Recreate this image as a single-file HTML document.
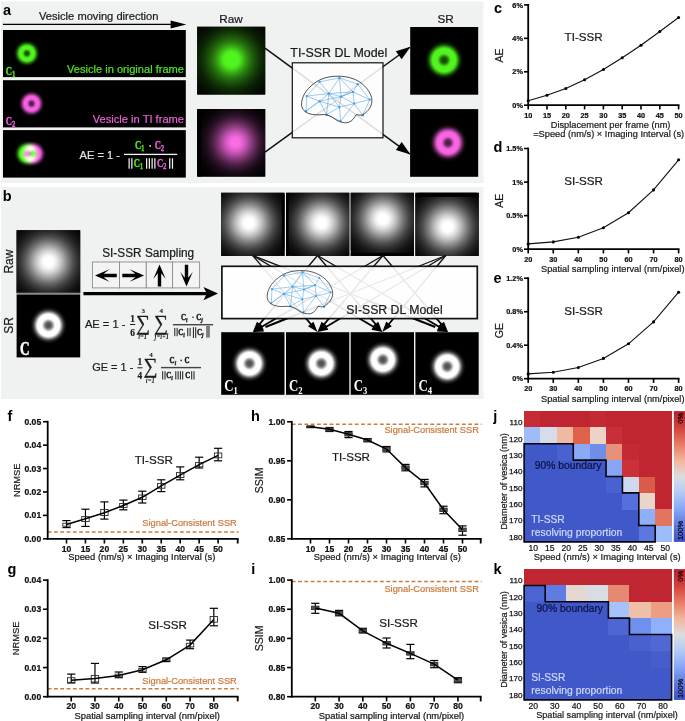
<!DOCTYPE html>
<html lang="en"><head><meta charset="utf-8"><title>Figure</title>
<style>html,body{margin:0;padding:0;background:#fff;}body{width:685px;height:721px;overflow:hidden;}svg{display:block;}text{white-space:pre;}</style>
</head><body>
<svg width="685" height="721" viewBox="0 0 685 721" font-family='"Liberation Sans", Arial, Helvetica, sans-serif'><defs><radialGradient id="gRingG" gradientUnits="userSpaceOnUse" cx="0" cy="0" r="14"><stop offset="0.0000" stop-color="#184a09"/><stop offset="0.1071" stop-color="#1d580b"/><stop offset="0.2000" stop-color="#309312"/><stop offset="0.2857" stop-color="#48dc1b"/><stop offset="0.3571" stop-color="#50f51e"/><stop offset="0.5143" stop-color="#50f51e"/><stop offset="0.6000" stop-color="#40c418"/><stop offset="0.6857" stop-color="#287a0f"/><stop offset="0.7714" stop-color="#143d08"/><stop offset="0.8571" stop-color="#061402"/><stop offset="0.9429" stop-color="#010200"/><stop offset="1.0000" stop-color="#000000"/></radialGradient><radialGradient id="gRingM" gradientUnits="userSpaceOnUse" cx="0" cy="0" r="14"><stop offset="0.0000" stop-color="#4a1c44"/><stop offset="0.1071" stop-color="#582251"/><stop offset="0.2000" stop-color="#933987"/><stop offset="0.2857" stop-color="#dc56ca"/><stop offset="0.3571" stop-color="#f55fe1"/><stop offset="0.5143" stop-color="#f55fe1"/><stop offset="0.6000" stop-color="#c44cb4"/><stop offset="0.6857" stop-color="#7a3070"/><stop offset="0.7714" stop-color="#3d1838"/><stop offset="0.8571" stop-color="#140812"/><stop offset="0.9429" stop-color="#020102"/><stop offset="1.0000" stop-color="#000000"/></radialGradient><radialGradient id="gBlobG" gradientUnits="userSpaceOnUse" cx="0" cy="0" r="50"><stop offset="0.0000" stop-color="#50f51e"/><stop offset="0.1300" stop-color="#50f51e"/><stop offset="0.1700" stop-color="#4ce91c"/><stop offset="0.2100" stop-color="#44d01a"/><stop offset="0.2500" stop-color="#3bb516"/><stop offset="0.3000" stop-color="#329813"/><stop offset="0.3600" stop-color="#287a0f"/><stop offset="0.4200" stop-color="#20620c"/><stop offset="0.5000" stop-color="#174709"/><stop offset="0.5800" stop-color="#103106"/><stop offset="0.6600" stop-color="#0a2004"/><stop offset="0.7400" stop-color="#071503"/><stop offset="0.8400" stop-color="#040b01"/><stop offset="1.0000" stop-color="#020501"/></radialGradient><radialGradient id="gBlobM" gradientUnits="userSpaceOnUse" cx="0" cy="0" r="50"><stop offset="0.0000" stop-color="#fb6ce4"/><stop offset="0.0333" stop-color="#fb6ce4"/><stop offset="0.0667" stop-color="#fb6ce4"/><stop offset="0.1000" stop-color="#f469dd"/><stop offset="0.1333" stop-color="#e964d3"/><stop offset="0.1667" stop-color="#db5ec7"/><stop offset="0.2000" stop-color="#cc58b9"/><stop offset="0.2333" stop-color="#bb50aa"/><stop offset="0.2667" stop-color="#a9499a"/><stop offset="0.3000" stop-color="#97418a"/><stop offset="0.3333" stop-color="#863979"/><stop offset="0.3667" stop-color="#74326a"/><stop offset="0.4000" stop-color="#642b5b"/><stop offset="0.4333" stop-color="#55244d"/><stop offset="0.4667" stop-color="#471e40"/><stop offset="0.5000" stop-color="#3a1935"/><stop offset="0.5333" stop-color="#30152b"/><stop offset="0.5667" stop-color="#261023"/><stop offset="0.6000" stop-color="#1e0d1c"/><stop offset="0.6333" stop-color="#180a16"/><stop offset="0.6667" stop-color="#120811"/><stop offset="0.7000" stop-color="#0e060d"/><stop offset="0.7333" stop-color="#0b050a"/><stop offset="0.7667" stop-color="#080307"/><stop offset="0.8000" stop-color="#060205"/><stop offset="0.8333" stop-color="#040204"/><stop offset="0.8667" stop-color="#030103"/><stop offset="0.9000" stop-color="#020102"/><stop offset="0.9333" stop-color="#010101"/><stop offset="0.9667" stop-color="#010001"/><stop offset="1.0000" stop-color="#010001"/></radialGradient><clipPath id="cl1"><rect x="197.20" y="26.80" width="68.00" height="67.70"/></clipPath><clipPath id="cl2"><rect x="197.20" y="109.00" width="68.00" height="67.60"/></clipPath><radialGradient id="gRingG2" gradientUnits="userSpaceOnUse" cx="0" cy="0" r="20"><stop offset="0.0000" stop-color="#164508"/><stop offset="0.1200" stop-color="#1b530a"/><stop offset="0.2100" stop-color="#2e8e11"/><stop offset="0.2900" stop-color="#45d31a"/><stop offset="0.3500" stop-color="#50f51e"/><stop offset="0.5700" stop-color="#50f51e"/><stop offset="0.6450" stop-color="#3ebf17"/><stop offset="0.7200" stop-color="#26760e"/><stop offset="0.7950" stop-color="#123807"/><stop offset="0.8700" stop-color="#061402"/><stop offset="0.9450" stop-color="#010400"/><stop offset="1.0000" stop-color="#000000"/></radialGradient><radialGradient id="gRingM2" gradientUnits="userSpaceOnUse" cx="0" cy="0" r="20"><stop offset="0.0000" stop-color="#451c3f"/><stop offset="0.1000" stop-color="#52214b"/><stop offset="0.1900" stop-color="#88377c"/><stop offset="0.2700" stop-color="#d355c0"/><stop offset="0.3300" stop-color="#f864e2"/><stop offset="0.5300" stop-color="#f864e2"/><stop offset="0.6100" stop-color="#c650b5"/><stop offset="0.6900" stop-color="#7c3271"/><stop offset="0.7700" stop-color="#3c1836"/><stop offset="0.8500" stop-color="#140812"/><stop offset="0.9300" stop-color="#040203"/><stop offset="1.0000" stop-color="#000000"/></radialGradient><clipPath id="cl3"><rect x="410.20" y="27.00" width="68.00" height="67.70"/></clipPath><clipPath id="cl4"><rect x="410.10" y="109.10" width="68.10" height="67.70"/></clipPath><radialGradient id="gBlobW" gradientUnits="userSpaceOnUse" cx="0" cy="0" r="45"><stop offset="0.0000" stop-color="#ffffff"/><stop offset="0.0333" stop-color="#ffffff"/><stop offset="0.0667" stop-color="#ffffff"/><stop offset="0.1000" stop-color="#ffffff"/><stop offset="0.1333" stop-color="#f7f7f7"/><stop offset="0.1667" stop-color="#eeeeee"/><stop offset="0.2000" stop-color="#e2e2e2"/><stop offset="0.2333" stop-color="#d6d6d6"/><stop offset="0.2667" stop-color="#c8c8c8"/><stop offset="0.3000" stop-color="#bababa"/><stop offset="0.3333" stop-color="#ababab"/><stop offset="0.3667" stop-color="#9c9c9c"/><stop offset="0.4000" stop-color="#8d8d8d"/><stop offset="0.4333" stop-color="#7e7e7e"/><stop offset="0.4667" stop-color="#707070"/><stop offset="0.5000" stop-color="#636363"/><stop offset="0.5333" stop-color="#565656"/><stop offset="0.5667" stop-color="#4a4a4a"/><stop offset="0.6000" stop-color="#404040"/><stop offset="0.6333" stop-color="#363636"/><stop offset="0.6667" stop-color="#2e2e2e"/><stop offset="0.7000" stop-color="#262626"/><stop offset="0.7333" stop-color="#202020"/><stop offset="0.7667" stop-color="#1a1a1a"/><stop offset="0.8000" stop-color="#151515"/><stop offset="0.8333" stop-color="#111111"/><stop offset="0.8667" stop-color="#0e0e0e"/><stop offset="0.9000" stop-color="#0b0b0b"/><stop offset="0.9333" stop-color="#080808"/><stop offset="0.9667" stop-color="#070707"/><stop offset="1.0000" stop-color="#050505"/></radialGradient><radialGradient id="gRingW" gradientUnits="userSpaceOnUse" cx="0" cy="0" r="19"><stop offset="0.0000" stop-color="#4c4c4c"/><stop offset="0.1316" stop-color="#5c5c5c"/><stop offset="0.2263" stop-color="#999999"/><stop offset="0.3053" stop-color="#e0e0e0"/><stop offset="0.3684" stop-color="#ffffff"/><stop offset="0.5789" stop-color="#ffffff"/><stop offset="0.6474" stop-color="#c7c7c7"/><stop offset="0.7263" stop-color="#737373"/><stop offset="0.8053" stop-color="#333333"/><stop offset="0.8842" stop-color="#121212"/><stop offset="0.9579" stop-color="#030303"/><stop offset="1.0000" stop-color="#000000"/></radialGradient><clipPath id="cl5"><rect x="16.60" y="230.20" width="63.60" height="62.80"/></clipPath><clipPath id="cl6"><rect x="16.60" y="294.60" width="63.60" height="62.80"/></clipPath><clipPath id="cl7"><rect x="221.20" y="192.80" width="63.30" height="63.10"/></clipPath><clipPath id="cl8"><rect x="286.00" y="192.80" width="63.30" height="63.10"/></clipPath><clipPath id="cl9"><rect x="350.70" y="192.80" width="63.30" height="63.10"/></clipPath><clipPath id="cl10"><rect x="415.40" y="192.80" width="63.30" height="63.10"/></clipPath><clipPath id="cl11"><rect x="221.20" y="332.20" width="63.30" height="62.60"/></clipPath><clipPath id="cl12"><rect x="286.00" y="332.20" width="63.30" height="62.60"/></clipPath><clipPath id="cl13"><rect x="350.70" y="332.20" width="63.30" height="62.60"/></clipPath><clipPath id="cl14"><rect x="415.40" y="332.20" width="63.30" height="62.60"/></clipPath><linearGradient id="cbar" x1="0" y1="0" x2="0" y2="1"><stop offset="0" stop-color="#b8202c"/><stop offset="0.12" stop-color="#cf3f3c"/><stop offset="0.25" stop-color="#e67a62"/><stop offset="0.38" stop-color="#f1b79d"/><stop offset="0.5" stop-color="#dddcdc"/><stop offset="0.62" stop-color="#b4cbf8"/><stop offset="0.75" stop-color="#86a6f5"/><stop offset="0.88" stop-color="#5b77de"/><stop offset="1" stop-color="#3c50c3"/></linearGradient></defs>
<rect x="0" y="0" width="685" height="721" fill="#fff"/>
<rect x="1.00" y="1.50" width="482.50" height="181.50" fill="#f0f1f1" />
<rect x="1.00" y="187.00" width="482.50" height="212.00" fill="#f0f1f1" />
<text x="3.10" y="14.60" font-size="14.5" font-weight="bold" fill="#000">a</text>
<text x="39.00" y="20.10" font-size="11" fill="#1a1a1a" textLength="119.50" lengthAdjust="spacingAndGlyphs" stroke="#1a1a1a" stroke-width="0.22">Vesicle moving direction</text>
<line x1="3.00" y1="24.40" x2="175.00" y2="24.40" stroke="#000" stroke-width="1.35" />
<path d="M186.3 24.4 L170.6 20.4 L170.6 28.4 Z" fill="#000"/>
<rect x="3.00" y="30.00" width="182.80" height="47.10" fill="#000" />
<rect x="3.00" y="80.20" width="182.80" height="47.20" fill="#000" />
<rect x="3.00" y="130.10" width="182.80" height="47.50" fill="#000" />
<g transform="translate(26.9 53.4)"><circle r="14" fill="url(#gRingG)"/></g>
<g transform="translate(31.5 103.6)"><circle r="14" fill="url(#gRingM)"/></g>
<g transform="translate(27.4 153.7)"><circle r="14" fill="url(#gRingG)"/></g>
<g transform="translate(33.0 153.7)" style="mix-blend-mode:screen"><circle r="14" fill="url(#gRingM)"/></g>
<text transform="translate(5.80 74.80) scale(0.72 1)" font-size="12" font-weight="bold" fill="#4fe321" stroke="#4fe321" stroke-width="0.45" font-family='"Liberation Serif", "DejaVu Serif", serif'>C<tspan font-size="9.20" dy="2.28">1</tspan></text>
<text transform="translate(5.80 125.00) scale(0.72 1)" font-size="12" font-weight="bold" fill="#e95fd6" stroke="#e95fd6" stroke-width="0.45" font-family='"Liberation Serif", "DejaVu Serif", serif'>C<tspan font-size="9.20" dy="2.28">2</tspan></text>
<text x="184.00" y="73.20" font-size="11" text-anchor="end" fill="#4fe321" textLength="117.00" lengthAdjust="spacingAndGlyphs" stroke="#4fe321" stroke-width="0.22">Vesicle in original frame</text>
<text x="184.00" y="122.60" font-size="11" text-anchor="end" fill="#e95fd6" textLength="91.20" lengthAdjust="spacingAndGlyphs" stroke="#e95fd6" stroke-width="0.22">Vesicle in TI frame</text>
<text x="79.60" y="158.50" font-size="11" fill="#e2e2e2" textLength="40.30" lengthAdjust="spacingAndGlyphs" stroke="#e2e2e2" stroke-width="0.22">AE = 1 -</text>
<rect x="124.00" y="153.75" width="53.20" height="1.30" fill="#f4f4f4" />
<text transform="translate(135.00 149.20) scale(0.72 1)" font-size="12" font-weight="bold" fill="#4fe321" stroke="#4fe321" stroke-width="0.45" font-family='"Liberation Serif", "DejaVu Serif", serif'>C<tspan font-size="8.40" dy="2.28">1</tspan></text>
<circle cx="150.2" cy="145.9" r="0.85" fill="#e8f5e0"/>
<text transform="translate(154.70 149.20) scale(0.72 1)" font-size="12" font-weight="bold" fill="#e95fd6" stroke="#e95fd6" stroke-width="0.45" font-family='"Liberation Serif", "DejaVu Serif", serif'>C<tspan font-size="8.40" dy="2.28">2</tspan></text>
<rect x="128.50" y="158.20" width="1.25" height="10.50" fill="#eee" />
<rect x="131.25" y="158.20" width="1.25" height="10.50" fill="#eee" />
<text transform="translate(133.80 166.90) scale(0.72 1)" font-size="12" font-weight="bold" fill="#4fe321" stroke="#4fe321" stroke-width="0.45" font-family='"Liberation Serif", "DejaVu Serif", serif'>C<tspan font-size="8.40" dy="2.28">1</tspan></text>
<rect x="146.00" y="158.20" width="1.25" height="10.50" fill="#eee" />
<rect x="148.75" y="158.20" width="1.25" height="10.50" fill="#eee" />
<rect x="151.50" y="158.20" width="1.25" height="10.50" fill="#eee" />
<rect x="154.25" y="158.20" width="1.25" height="10.50" fill="#eee" />
<text transform="translate(157.00 166.90) scale(0.72 1)" font-size="12" font-weight="bold" fill="#e95fd6" stroke="#e95fd6" stroke-width="0.45" font-family='"Liberation Serif", "DejaVu Serif", serif'>C<tspan font-size="8.40" dy="2.28">2</tspan></text>
<rect x="169.10" y="158.20" width="1.25" height="10.50" fill="#eee" />
<rect x="171.85" y="158.20" width="1.25" height="10.50" fill="#eee" />
<text x="231.00" y="23.30" font-size="11.7" text-anchor="middle" fill="#1a1a1a" stroke="#1a1a1a" stroke-width="0.22">Raw</text>
<text x="445.50" y="23.30" font-size="11.7" text-anchor="middle" fill="#1a1a1a" stroke="#1a1a1a" stroke-width="0.22">SR</text>
<rect x="197.20" y="26.80" width="68.00" height="67.70" fill="#000" />
<g clip-path="url(#cl1)"><g transform="translate(231.40 59.60)"><circle r="50" fill="url(#gBlobG)"/></g></g>
<rect x="197.20" y="109.00" width="68.00" height="67.60" fill="#000" />
<g clip-path="url(#cl2)"><g transform="translate(235.30 142.40)"><circle r="50" fill="url(#gBlobM)"/></g></g>
<rect x="197.20" y="109.00" width="3.60" height="67.60" fill="#000" />
<rect x="410.20" y="27.00" width="68.00" height="67.70" fill="#000" />
<g clip-path="url(#cl3)"><g transform="translate(444.10 60.10)"><circle r="20" fill="url(#gRingG2)"/></g></g>
<rect x="410.10" y="109.10" width="68.10" height="67.70" fill="#000" />
<g clip-path="url(#cl4)"><g transform="translate(448.00 142.70)"><circle r="20" fill="url(#gRingM2)"/></g></g>
<line x1="265.00" y1="48.20" x2="409.50" y2="153.80" stroke="#111" stroke-width="1.5" />
<line x1="265.00" y1="152.20" x2="409.50" y2="47.50" stroke="#111" stroke-width="1.5" />
<path d="M410.50 154.50 L395.84 149.98 L401.74 141.91 Z" fill="#000"/>
<path d="M410.50 46.80 L401.69 59.36 L395.82 51.26 Z" fill="#000"/>
<rect x="292.30" y="62.80" width="90.70" height="75.00" fill="#fff" stroke="#111" stroke-width="1.2" fill-opacity="0.86"/>
<text x="338.80" y="56.70" font-size="12" text-anchor="middle" fill="#1a1a1a" textLength="97.00" lengthAdjust="spacingAndGlyphs" stroke="#1a1a1a" stroke-width="0.22">TI-SSR DL Model</text>
<g transform="translate(260.00 30.00) scale(0.2336)">
<line x1="255" y1="222" x2="340" y2="205" stroke="#5aa9e6" stroke-width="2.6"/>
<line x1="255" y1="222" x2="295" y2="272" stroke="#5aa9e6" stroke-width="2.6"/>
<line x1="255" y1="222" x2="200" y2="283" stroke="#5aa9e6" stroke-width="2.6"/>
<line x1="340" y1="205" x2="295" y2="272" stroke="#5aa9e6" stroke-width="2.6"/>
<line x1="340" y1="205" x2="347" y2="285" stroke="#5aa9e6" stroke-width="2.6"/>
<line x1="340" y1="205" x2="398" y2="265" stroke="#5aa9e6" stroke-width="2.6"/>
<line x1="340" y1="205" x2="418" y2="232" stroke="#5aa9e6" stroke-width="2.6"/>
<line x1="418" y1="232" x2="398" y2="265" stroke="#5aa9e6" stroke-width="2.6"/>
<line x1="418" y1="232" x2="470" y2="298" stroke="#5aa9e6" stroke-width="2.6"/>
<line x1="200" y1="283" x2="295" y2="272" stroke="#5aa9e6" stroke-width="2.6"/>
<line x1="200" y1="283" x2="255" y2="305" stroke="#5aa9e6" stroke-width="2.6"/>
<line x1="200" y1="283" x2="197" y2="347" stroke="#5aa9e6" stroke-width="2.6"/>
<line x1="295" y1="272" x2="347" y2="285" stroke="#5aa9e6" stroke-width="2.6"/>
<line x1="295" y1="272" x2="255" y2="305" stroke="#5aa9e6" stroke-width="2.6"/>
<line x1="295" y1="272" x2="340" y2="330" stroke="#5aa9e6" stroke-width="2.6"/>
<line x1="295" y1="272" x2="285" y2="362" stroke="#5aa9e6" stroke-width="2.6"/>
<line x1="347" y1="285" x2="398" y2="265" stroke="#5aa9e6" stroke-width="2.6"/>
<line x1="347" y1="285" x2="403" y2="315" stroke="#5aa9e6" stroke-width="2.6"/>
<line x1="347" y1="285" x2="340" y2="330" stroke="#5aa9e6" stroke-width="2.6"/>
<line x1="398" y1="265" x2="403" y2="315" stroke="#5aa9e6" stroke-width="2.6"/>
<line x1="398" y1="265" x2="470" y2="298" stroke="#5aa9e6" stroke-width="2.6"/>
<line x1="470" y1="298" x2="403" y2="315" stroke="#5aa9e6" stroke-width="2.6"/>
<line x1="255" y1="305" x2="197" y2="347" stroke="#5aa9e6" stroke-width="2.6"/>
<line x1="255" y1="305" x2="285" y2="362" stroke="#5aa9e6" stroke-width="2.6"/>
<line x1="255" y1="305" x2="340" y2="330" stroke="#5aa9e6" stroke-width="2.6"/>
<line x1="403" y1="315" x2="340" y2="330" stroke="#5aa9e6" stroke-width="2.6"/>
<line x1="403" y1="315" x2="440" y2="365" stroke="#5aa9e6" stroke-width="2.6"/>
<line x1="403" y1="315" x2="345" y2="390" stroke="#5aa9e6" stroke-width="2.6"/>
<line x1="340" y1="330" x2="345" y2="390" stroke="#5aa9e6" stroke-width="2.6"/>
<line x1="340" y1="330" x2="285" y2="362" stroke="#5aa9e6" stroke-width="2.6"/>
<line x1="470" y1="298" x2="440" y2="365" stroke="#5aa9e6" stroke-width="2.6"/>
<line x1="398" y1="265" x2="347" y2="285" stroke="#5aa9e6" stroke-width="2.6"/>
<line x1="197" y1="347" x2="255" y2="305" stroke="#5aa9e6" stroke-width="2.6"/>
<line x1="285" y1="362" x2="345" y2="390" stroke="#5aa9e6" stroke-width="2.6"/>
<line x1="295" y1="272" x2="398" y2="265" stroke="#5aa9e6" stroke-width="2.6"/>
<line x1="255" y1="305" x2="347" y2="285" stroke="#5aa9e6" stroke-width="2.6"/>
<circle cx="255" cy="222" r="5" fill="#4a9fe0"/>
<circle cx="340" cy="205" r="5" fill="#4a9fe0"/>
<circle cx="418" cy="232" r="5" fill="#4a9fe0"/>
<circle cx="200" cy="283" r="5" fill="#4a9fe0"/>
<circle cx="295" cy="272" r="5" fill="#4a9fe0"/>
<circle cx="347" cy="285" r="5" fill="#4a9fe0"/>
<circle cx="398" cy="265" r="5" fill="#4a9fe0"/>
<circle cx="470" cy="298" r="5" fill="#4a9fe0"/>
<circle cx="255" cy="305" r="5" fill="#4a9fe0"/>
<circle cx="403" cy="315" r="5" fill="#4a9fe0"/>
<circle cx="340" cy="330" r="5" fill="#4a9fe0"/>
<circle cx="197" cy="347" r="5" fill="#4a9fe0"/>
<circle cx="285" cy="362" r="5" fill="#4a9fe0"/>
<circle cx="345" cy="390" r="5" fill="#4a9fe0"/>
<circle cx="440" cy="365" r="5" fill="#4a9fe0"/>
<path d="M178 322 C176 290 196 255 230 230 C262 205 300 197 338 198 C380 198 420 212 448 240 C468 260 480 285 479 305 C478 330 462 348 446 358 C440 366 428 366 412 362 C404 375 396 390 378 396 C356 400 338 392 322 382 C305 370 292 362 270 362 C250 364 228 364 210 358 C192 352 180 340 178 322 Z" fill="none" stroke="#222" stroke-width="3.4"/>
</g>
<text x="2.80" y="200.70" font-size="14.5" font-weight="bold" fill="#000">b</text>
<rect x="16.60" y="230.20" width="63.60" height="62.80" fill="#000" />
<g clip-path="url(#cl5)"><g transform="translate(48.50 261.80)"><circle r="45" fill="url(#gBlobW)"/></g></g>
<rect x="16.60" y="292.70" width="63.60" height="2.00" fill="#8a8a8a" />
<rect x="16.60" y="294.60" width="63.60" height="62.80" fill="#000" />
<g clip-path="url(#cl6)"><g transform="translate(48.50 325.30)"><circle r="19" fill="url(#gRingW)"/></g></g>
<text x="12.60" y="261.60" font-size="12" text-anchor="middle" fill="#1a1a1a" transform="rotate(-90 12.60 261.60)" stroke="#1a1a1a" stroke-width="0.22">Raw</text>
<text x="12.60" y="325.30" font-size="12" text-anchor="middle" fill="#1a1a1a" transform="rotate(-90 12.60 325.30)" stroke="#1a1a1a" stroke-width="0.22">SR</text>
<text x="19.90" y="354.60" font-size="18" font-weight="bold" fill="#fff" font-family='"Liberation Serif", "DejaVu Serif", serif' textLength="9.60" lengthAdjust="spacingAndGlyphs" stroke="#fff" stroke-width="0.5">C</text>
<text x="148.20" y="256.60" font-size="12" text-anchor="middle" fill="#1a1a1a" textLength="92.00" lengthAdjust="spacingAndGlyphs" stroke="#1a1a1a" stroke-width="0.22">SI-SSR Sampling</text>
<rect x="92.40" y="262.00" width="27.10" height="25.90" fill="#f4f4f4" stroke="#8c8c8c" stroke-width="0.9" />
<rect x="119.50" y="262.00" width="26.80" height="25.90" fill="#f4f4f4" stroke="#8c8c8c" stroke-width="0.9" />
<rect x="146.30" y="262.00" width="26.30" height="25.90" fill="#f4f4f4" stroke="#8c8c8c" stroke-width="0.9" />
<rect x="172.60" y="262.00" width="27.00" height="25.90" fill="#f4f4f4" stroke="#8c8c8c" stroke-width="0.9" />
<path d="M95.00 275.50 L109.50 269.30 L103.70 273.80 L116.80 273.80 L116.80 277.20 L103.70 277.20 L109.50 281.70 Z" fill="#000"/>
<path d="M144.10 275.50 L129.60 281.70 L135.40 277.20 L122.30 277.20 L122.30 273.80 L135.40 273.80 L129.60 269.30 Z" fill="#000"/>
<path d="M159.50 264.60 L165.70 279.10 L161.20 273.30 L161.20 286.40 L157.80 286.40 L157.80 273.30 L153.30 279.10 Z" fill="#000"/>
<path d="M186.50 286.50 L180.30 272.00 L184.80 277.80 L184.80 264.70 L188.20 264.70 L188.20 277.80 L192.70 272.00 Z" fill="#000"/>
<line x1="83.40" y1="293.60" x2="207.00" y2="293.60" stroke="#000" stroke-width="3.2" />
<path d="M218 293.6 L203.5 286.9 L206.8 293.6 L203.5 300.3 Z" fill="#000"/>
<text x="84.90" y="327.60" font-size="11" fill="#1c1c1c" textLength="40.60" lengthAdjust="spacingAndGlyphs" stroke="#1c1c1c" stroke-width="0.22">AE = 1 -</text>
<text transform="translate(132.60 321.70) scale(0.85 1)" font-size="11" font-weight="bold" text-anchor="middle" fill="#1c1c1c" stroke="#1c1c1c" stroke-width="0.25" font-family='"Liberation Serif", "DejaVu Serif", serif'>1</text>
<text transform="translate(132.60 335.60) scale(0.85 1)" font-size="11" font-weight="bold" text-anchor="middle" fill="#1c1c1c" stroke="#1c1c1c" stroke-width="0.25" font-family='"Liberation Serif", "DejaVu Serif", serif'>6</text>
<rect x="130.00" y="324.00" width="5.20" height="1.00" fill="#1c1c1c" />
<text transform="translate(135.91 329.51) scale(0.916 1)" font-size="21.54" fill="#1c1c1c" stroke="#1c1c1c" stroke-width="0.3" font-family='"Liberation Serif", "DejaVu Serif", serif'>∑</text>
<text transform="translate(143.30 313.30) scale(1.0 1)" font-size="7" font-weight="bold" text-anchor="middle" fill="#1c1c1c" stroke="#1c1c1c" stroke-width="0.1" font-family='"Liberation Serif", "DejaVu Serif", serif'>3</text>
<text transform="translate(142.70 339.40) scale(0.92 1)" font-size="7.2" font-weight="bold" text-anchor="middle" fill="#1c1c1c" stroke="#1c1c1c" stroke-width="0" font-style="italic" font-family='"Liberation Serif", "DejaVu Serif", serif'>i=1</text>
<text transform="translate(153.91 329.51) scale(0.916 1)" font-size="21.54" fill="#1c1c1c" stroke="#1c1c1c" stroke-width="0.3" font-family='"Liberation Serif", "DejaVu Serif", serif'>∑</text>
<text transform="translate(161.30 313.30) scale(1.0 1)" font-size="7" font-weight="bold" text-anchor="middle" fill="#1c1c1c" stroke="#1c1c1c" stroke-width="0.1" font-family='"Liberation Serif", "DejaVu Serif", serif'>4</text>
<text transform="translate(161.80 339.40) scale(0.92 1)" font-size="7.2" font-weight="bold" text-anchor="middle" fill="#1c1c1c" stroke="#1c1c1c" stroke-width="0" font-style="italic" font-family='"Liberation Serif", "DejaVu Serif", serif'>j=i+1</text>
<rect x="172.90" y="324.00" width="40.20" height="1.40" fill="#444" />
<text transform="translate(181.00 320.20) scale(0.78 1)" font-size="9" font-weight="bold" fill="#1c1c1c" stroke="#1c1c1c" stroke-width="0.45" font-family='"Liberation Serif", "DejaVu Serif", serif'>C<tspan font-size="6.80" dy="1.60" font-style="italic">i</tspan></text>
<circle cx="193" cy="317.2" r="0.8" fill="#1c1c1c"/>
<text transform="translate(196.20 320.20) scale(0.78 1)" font-size="9" font-weight="bold" fill="#1c1c1c" stroke="#1c1c1c" stroke-width="0.45" font-family='"Liberation Serif", "DejaVu Serif", serif'>C<tspan font-size="6.80" dy="1.60" font-style="italic">j</tspan></text>
<rect x="174.30" y="327.90" width="1.00" height="8.30" fill="#1c1c1c" />
<rect x="176.60" y="327.90" width="1.00" height="8.30" fill="#1c1c1c" />
<text transform="translate(178.30 335.00) scale(0.78 1)" font-size="9" font-weight="bold" fill="#1c1c1c" stroke="#1c1c1c" stroke-width="0.45" font-family='"Liberation Serif", "DejaVu Serif", serif'>C<tspan font-size="6.80" dy="1.60" font-style="italic">i</tspan></text>
<rect x="187.30" y="327.90" width="1.00" height="8.30" fill="#1c1c1c" />
<rect x="189.60" y="327.90" width="1.00" height="8.30" fill="#1c1c1c" />
<rect x="192.90" y="327.20" width="1.00" height="10.80" fill="#1c1c1c" />
<rect x="195.20" y="327.20" width="1.00" height="10.80" fill="#1c1c1c" />
<text transform="translate(197.00 335.00) scale(0.78 1)" font-size="9" font-weight="bold" fill="#1c1c1c" stroke="#1c1c1c" stroke-width="0.45" font-family='"Liberation Serif", "DejaVu Serif", serif'>C<tspan font-size="6.80" dy="1.60" font-style="italic">j</tspan></text>
<rect x="206.10" y="325.80" width="3.80" height="11.80" fill="#7d7d7d" />
<text x="92.20" y="371.20" font-size="11" fill="#1c1c1c" textLength="41.10" lengthAdjust="spacingAndGlyphs" stroke="#1c1c1c" stroke-width="0.22">GE = 1 -</text>
<text transform="translate(139.90 365.00) scale(0.85 1)" font-size="11" font-weight="bold" text-anchor="middle" fill="#1c1c1c" stroke="#1c1c1c" stroke-width="0.25" font-family='"Liberation Serif", "DejaVu Serif", serif'>1</text>
<text transform="translate(139.90 378.90) scale(0.85 1)" font-size="11" font-weight="bold" text-anchor="middle" fill="#1c1c1c" stroke="#1c1c1c" stroke-width="0.25" font-family='"Liberation Serif", "DejaVu Serif", serif'>4</text>
<rect x="137.30" y="367.30" width="5.20" height="1.00" fill="#1c1c1c" />
<text transform="translate(143.51 372.81) scale(0.916 1)" font-size="21.54" fill="#1c1c1c" stroke="#1c1c1c" stroke-width="0.3" font-family='"Liberation Serif", "DejaVu Serif", serif'>∑</text>
<text transform="translate(150.90 356.60) scale(1.0 1)" font-size="7" font-weight="bold" text-anchor="middle" fill="#1c1c1c" stroke="#1c1c1c" stroke-width="0.1" font-family='"Liberation Serif", "DejaVu Serif", serif'>4</text>
<text transform="translate(150.30 382.70) scale(0.92 1)" font-size="7.2" font-weight="bold" text-anchor="middle" fill="#1c1c1c" stroke="#1c1c1c" stroke-width="0" font-style="italic" font-family='"Liberation Serif", "DejaVu Serif", serif'>i=1</text>
<rect x="161.00" y="366.90" width="40.00" height="1.40" fill="#444" />
<text transform="translate(169.60 363.40) scale(0.78 1)" font-size="9" font-weight="bold" fill="#1c1c1c" stroke="#1c1c1c" stroke-width="0.45" font-family='"Liberation Serif", "DejaVu Serif", serif'>C<tspan font-size="6.80" dy="1.60" font-style="italic">i</tspan></text>
<circle cx="181.2" cy="360.4" r="0.8" fill="#1c1c1c"/>
<text transform="translate(184.60 363.40) scale(0.78 1)" font-size="9" font-weight="bold" fill="#1c1c1c" stroke="#1c1c1c" stroke-width="0.45" font-family='"Liberation Serif", "DejaVu Serif", serif'>C</text>
<rect x="162.20" y="371.20" width="1.00" height="8.30" fill="#1c1c1c" />
<rect x="164.50" y="371.20" width="1.00" height="8.30" fill="#1c1c1c" />
<text transform="translate(166.30 378.30) scale(0.78 1)" font-size="9" font-weight="bold" fill="#1c1c1c" stroke="#1c1c1c" stroke-width="0.45" font-family='"Liberation Serif", "DejaVu Serif", serif'>C<tspan font-size="6.80" dy="1.60" font-style="italic">i</tspan></text>
<rect x="175.30" y="371.20" width="1.00" height="8.30" fill="#1c1c1c" />
<rect x="177.60" y="371.20" width="1.00" height="8.30" fill="#1c1c1c" />
<rect x="179.90" y="371.20" width="1.00" height="8.30" fill="#1c1c1c" />
<rect x="182.20" y="371.20" width="1.00" height="8.30" fill="#1c1c1c" />
<text transform="translate(185.30 378.30) scale(0.78 1)" font-size="9" font-weight="bold" fill="#1c1c1c" stroke="#1c1c1c" stroke-width="0.45" font-family='"Liberation Serif", "DejaVu Serif", serif'>C</text>
<rect x="191.20" y="371.20" width="1.00" height="8.30" fill="#1c1c1c" />
<rect x="193.50" y="371.20" width="1.00" height="8.30" fill="#1c1c1c" />
<rect x="221.20" y="192.80" width="63.30" height="63.10" fill="#000" />
<g clip-path="url(#cl7)"><g transform="translate(248.85 222.80)"><circle r="45" fill="url(#gBlobW)"/></g></g>
<rect x="281.90" y="192.80" width="2.60" height="63.10" fill="#000" />
<rect x="286.00" y="192.80" width="63.30" height="63.10" fill="#000" />
<g clip-path="url(#cl8)"><g transform="translate(321.45 222.80)"><circle r="45" fill="url(#gBlobW)"/></g></g>
<rect x="286.00" y="192.80" width="2.60" height="63.10" fill="#000" />
<rect x="350.70" y="192.80" width="63.30" height="63.10" fill="#000" />
<g clip-path="url(#cl9)"><g transform="translate(382.85 218.80)"><circle r="45" fill="url(#gBlobW)"/></g></g>
<rect x="350.70" y="252.90" width="63.30" height="3.00" fill="#000" />
<rect x="415.40" y="192.80" width="63.30" height="63.10" fill="#000" />
<g clip-path="url(#cl10)"><g transform="translate(447.55 226.80)"><circle r="45" fill="url(#gBlobW)"/></g></g>
<rect x="415.40" y="192.80" width="63.30" height="4.00" fill="#000" />
<rect x="221.20" y="332.20" width="63.30" height="62.60" fill="#000" />
<g clip-path="url(#cl11)"><g transform="translate(249.45 363.50)"><circle r="19" fill="url(#gRingW)"/></g></g>
<text x="224.20" y="390.5" font-size="15.8" font-weight="bold" fill="#fff" font-family='"Liberation Serif", "DejaVu Serif", serif' textLength="13.6" lengthAdjust="spacingAndGlyphs">C<tspan font-size="10.5" dy="3.4">1</tspan></text>
<rect x="286.00" y="332.20" width="63.30" height="62.60" fill="#000" />
<g clip-path="url(#cl12)"><g transform="translate(321.25 363.50)"><circle r="19" fill="url(#gRingW)"/></g></g>
<text x="289.00" y="390.5" font-size="15.8" font-weight="bold" fill="#fff" font-family='"Liberation Serif", "DejaVu Serif", serif' textLength="13.6" lengthAdjust="spacingAndGlyphs">C<tspan font-size="10.5" dy="3.4">2</tspan></text>
<rect x="350.70" y="332.20" width="63.30" height="62.60" fill="#000" />
<g clip-path="url(#cl13)"><g transform="translate(382.85 359.70)"><circle r="19" fill="url(#gRingW)"/></g></g>
<text x="353.70" y="390.5" font-size="15.8" font-weight="bold" fill="#fff" font-family='"Liberation Serif", "DejaVu Serif", serif' textLength="13.6" lengthAdjust="spacingAndGlyphs">C<tspan font-size="10.5" dy="3.4">3</tspan></text>
<rect x="415.40" y="332.20" width="63.30" height="62.60" fill="#000" />
<g clip-path="url(#cl14)"><g transform="translate(447.25 366.50)"><circle r="19" fill="url(#gRingW)"/></g></g>
<text x="418.40" y="390.5" font-size="15.8" font-weight="bold" fill="#fff" font-family='"Liberation Serif", "DejaVu Serif", serif' textLength="13.6" lengthAdjust="spacingAndGlyphs">C<tspan font-size="10.5" dy="3.4">4</tspan></text>
<line x1="252.70" y1="255.50" x2="290.39" y2="300.00" stroke="#111" stroke-width="1.3" />
<line x1="290.39" y1="300.00" x2="313.26" y2="327.00" stroke="#000" stroke-width="1.9" />
<line x1="252.70" y1="255.50" x2="328.09" y2="300.00" stroke="#111" stroke-width="1.3" />
<line x1="328.09" y1="300.00" x2="373.83" y2="327.00" stroke="#000" stroke-width="1.9" />
<line x1="252.70" y1="255.50" x2="366.31" y2="300.00" stroke="#111" stroke-width="1.3" />
<line x1="366.31" y1="300.00" x2="435.24" y2="327.00" stroke="#000" stroke-width="1.9" />
<line x1="317.50" y1="255.50" x2="279.92" y2="300.00" stroke="#111" stroke-width="1.3" />
<line x1="279.92" y1="300.00" x2="257.12" y2="327.00" stroke="#000" stroke-width="1.9" />
<line x1="317.50" y1="255.50" x2="355.19" y2="300.00" stroke="#111" stroke-width="1.3" />
<line x1="355.19" y1="300.00" x2="378.06" y2="327.00" stroke="#000" stroke-width="1.9" />
<line x1="317.50" y1="255.50" x2="393.41" y2="300.00" stroke="#111" stroke-width="1.3" />
<line x1="393.41" y1="300.00" x2="439.47" y2="327.00" stroke="#000" stroke-width="1.9" />
<line x1="383.00" y1="255.50" x2="307.32" y2="300.00" stroke="#111" stroke-width="1.3" />
<line x1="307.32" y1="300.00" x2="261.40" y2="327.00" stroke="#000" stroke-width="1.9" />
<line x1="383.00" y1="255.50" x2="344.90" y2="300.00" stroke="#111" stroke-width="1.3" />
<line x1="344.90" y1="300.00" x2="321.78" y2="327.00" stroke="#000" stroke-width="1.9" />
<line x1="383.00" y1="255.50" x2="420.81" y2="300.00" stroke="#111" stroke-width="1.3" />
<line x1="420.81" y1="300.00" x2="443.75" y2="327.00" stroke="#000" stroke-width="1.9" />
<line x1="445.80" y1="255.50" x2="333.59" y2="300.00" stroke="#111" stroke-width="1.3" />
<line x1="333.59" y1="300.00" x2="265.51" y2="327.00" stroke="#000" stroke-width="1.9" />
<line x1="445.80" y1="255.50" x2="371.17" y2="300.00" stroke="#111" stroke-width="1.3" />
<line x1="371.17" y1="300.00" x2="325.89" y2="327.00" stroke="#000" stroke-width="1.9" />
<line x1="445.80" y1="255.50" x2="408.86" y2="300.00" stroke="#111" stroke-width="1.3" />
<line x1="408.86" y1="300.00" x2="386.45" y2="327.00" stroke="#000" stroke-width="1.9" />
<path d="M317.50 332.00 L307.97 326.31 L313.46 321.66 Z" fill="#000"/>
<path d="M382.30 332.00 L371.43 329.76 L375.09 323.56 Z" fill="#000"/>
<path d="M448.00 332.00 L436.91 331.52 L439.54 324.82 Z" fill="#000"/>
<path d="M252.90 332.00 L256.92 321.66 L262.42 326.30 Z" fill="#000"/>
<path d="M382.30 332.00 L372.77 326.31 L378.26 321.66 Z" fill="#000"/>
<path d="M448.00 332.00 L437.12 329.80 L440.76 323.58 Z" fill="#000"/>
<path d="M252.90 332.00 L260.13 323.57 L263.78 329.78 Z" fill="#000"/>
<path d="M317.50 332.00 L321.59 321.68 L327.06 326.37 Z" fill="#000"/>
<path d="M448.00 332.00 L438.46 326.33 L443.94 321.67 Z" fill="#000"/>
<path d="M252.90 332.00 L261.33 324.78 L263.99 331.48 Z" fill="#000"/>
<path d="M317.50 332.00 L324.67 323.53 L328.36 329.71 Z" fill="#000"/>
<path d="M382.30 332.00 L386.24 321.62 L391.78 326.22 Z" fill="#000"/>
<rect x="221.90" y="266.30" width="255.40" height="52.30" fill="#fff" stroke="#111" stroke-width="1.7" fill-opacity="0.9"/>
<g transform="translate(228.50 227.57) scale(0.2174)">
<line x1="255" y1="222" x2="340" y2="205" stroke="#5aa9e6" stroke-width="2.6"/>
<line x1="255" y1="222" x2="295" y2="272" stroke="#5aa9e6" stroke-width="2.6"/>
<line x1="255" y1="222" x2="200" y2="283" stroke="#5aa9e6" stroke-width="2.6"/>
<line x1="340" y1="205" x2="295" y2="272" stroke="#5aa9e6" stroke-width="2.6"/>
<line x1="340" y1="205" x2="347" y2="285" stroke="#5aa9e6" stroke-width="2.6"/>
<line x1="340" y1="205" x2="398" y2="265" stroke="#5aa9e6" stroke-width="2.6"/>
<line x1="340" y1="205" x2="418" y2="232" stroke="#5aa9e6" stroke-width="2.6"/>
<line x1="418" y1="232" x2="398" y2="265" stroke="#5aa9e6" stroke-width="2.6"/>
<line x1="418" y1="232" x2="470" y2="298" stroke="#5aa9e6" stroke-width="2.6"/>
<line x1="200" y1="283" x2="295" y2="272" stroke="#5aa9e6" stroke-width="2.6"/>
<line x1="200" y1="283" x2="255" y2="305" stroke="#5aa9e6" stroke-width="2.6"/>
<line x1="200" y1="283" x2="197" y2="347" stroke="#5aa9e6" stroke-width="2.6"/>
<line x1="295" y1="272" x2="347" y2="285" stroke="#5aa9e6" stroke-width="2.6"/>
<line x1="295" y1="272" x2="255" y2="305" stroke="#5aa9e6" stroke-width="2.6"/>
<line x1="295" y1="272" x2="340" y2="330" stroke="#5aa9e6" stroke-width="2.6"/>
<line x1="295" y1="272" x2="285" y2="362" stroke="#5aa9e6" stroke-width="2.6"/>
<line x1="347" y1="285" x2="398" y2="265" stroke="#5aa9e6" stroke-width="2.6"/>
<line x1="347" y1="285" x2="403" y2="315" stroke="#5aa9e6" stroke-width="2.6"/>
<line x1="347" y1="285" x2="340" y2="330" stroke="#5aa9e6" stroke-width="2.6"/>
<line x1="398" y1="265" x2="403" y2="315" stroke="#5aa9e6" stroke-width="2.6"/>
<line x1="398" y1="265" x2="470" y2="298" stroke="#5aa9e6" stroke-width="2.6"/>
<line x1="470" y1="298" x2="403" y2="315" stroke="#5aa9e6" stroke-width="2.6"/>
<line x1="255" y1="305" x2="197" y2="347" stroke="#5aa9e6" stroke-width="2.6"/>
<line x1="255" y1="305" x2="285" y2="362" stroke="#5aa9e6" stroke-width="2.6"/>
<line x1="255" y1="305" x2="340" y2="330" stroke="#5aa9e6" stroke-width="2.6"/>
<line x1="403" y1="315" x2="340" y2="330" stroke="#5aa9e6" stroke-width="2.6"/>
<line x1="403" y1="315" x2="440" y2="365" stroke="#5aa9e6" stroke-width="2.6"/>
<line x1="403" y1="315" x2="345" y2="390" stroke="#5aa9e6" stroke-width="2.6"/>
<line x1="340" y1="330" x2="345" y2="390" stroke="#5aa9e6" stroke-width="2.6"/>
<line x1="340" y1="330" x2="285" y2="362" stroke="#5aa9e6" stroke-width="2.6"/>
<line x1="470" y1="298" x2="440" y2="365" stroke="#5aa9e6" stroke-width="2.6"/>
<line x1="398" y1="265" x2="347" y2="285" stroke="#5aa9e6" stroke-width="2.6"/>
<line x1="197" y1="347" x2="255" y2="305" stroke="#5aa9e6" stroke-width="2.6"/>
<line x1="285" y1="362" x2="345" y2="390" stroke="#5aa9e6" stroke-width="2.6"/>
<line x1="295" y1="272" x2="398" y2="265" stroke="#5aa9e6" stroke-width="2.6"/>
<line x1="255" y1="305" x2="347" y2="285" stroke="#5aa9e6" stroke-width="2.6"/>
<circle cx="255" cy="222" r="5" fill="#4a9fe0"/>
<circle cx="340" cy="205" r="5" fill="#4a9fe0"/>
<circle cx="418" cy="232" r="5" fill="#4a9fe0"/>
<circle cx="200" cy="283" r="5" fill="#4a9fe0"/>
<circle cx="295" cy="272" r="5" fill="#4a9fe0"/>
<circle cx="347" cy="285" r="5" fill="#4a9fe0"/>
<circle cx="398" cy="265" r="5" fill="#4a9fe0"/>
<circle cx="470" cy="298" r="5" fill="#4a9fe0"/>
<circle cx="255" cy="305" r="5" fill="#4a9fe0"/>
<circle cx="403" cy="315" r="5" fill="#4a9fe0"/>
<circle cx="340" cy="330" r="5" fill="#4a9fe0"/>
<circle cx="197" cy="347" r="5" fill="#4a9fe0"/>
<circle cx="285" cy="362" r="5" fill="#4a9fe0"/>
<circle cx="345" cy="390" r="5" fill="#4a9fe0"/>
<circle cx="440" cy="365" r="5" fill="#4a9fe0"/>
<path d="M178 322 C176 290 196 255 230 230 C262 205 300 197 338 198 C380 198 420 212 448 240 C468 260 480 285 479 305 C478 330 462 348 446 358 C440 366 428 366 412 362 C404 375 396 390 378 396 C356 400 338 392 322 382 C305 370 292 362 270 362 C250 364 228 364 210 358 C192 352 180 340 178 322 Z" fill="none" stroke="#222" stroke-width="3.4"/>
</g>
<text x="394.50" y="313.90" font-size="12" text-anchor="middle" fill="#1a1a1a" textLength="96.30" lengthAdjust="spacingAndGlyphs" stroke="#1a1a1a" stroke-width="0.22">SI-SSR DL Model</text>
<line x1="528.20" y1="4.00" x2="528.20" y2="106.10" stroke="#000" stroke-width="1.8" />
<line x1="527.30" y1="105.20" x2="679.50" y2="105.20" stroke="#000" stroke-width="1.8" />
<line x1="524.00" y1="105.20" x2="528.20" y2="105.20" stroke="#000" stroke-width="1.62" />
<text x="522.90" y="107.83" font-size="7.3" text-anchor="end" font-weight="bold" fill="#111" stroke="#111" stroke-width="0.22">0%</text>
<line x1="524.00" y1="71.77" x2="528.20" y2="71.77" stroke="#000" stroke-width="1.62" />
<text x="522.90" y="74.39" font-size="7.3" text-anchor="end" font-weight="bold" fill="#111" stroke="#111" stroke-width="0.22">2%</text>
<line x1="524.00" y1="38.33" x2="528.20" y2="38.33" stroke="#000" stroke-width="1.62" />
<text x="522.90" y="40.96" font-size="7.3" text-anchor="end" font-weight="bold" fill="#111" stroke="#111" stroke-width="0.22">4%</text>
<line x1="524.00" y1="4.90" x2="528.20" y2="4.90" stroke="#000" stroke-width="1.62" />
<text x="522.90" y="7.53" font-size="7.3" text-anchor="end" font-weight="bold" fill="#111" stroke="#111" stroke-width="0.22">6%</text>
<line x1="528.20" y1="105.20" x2="528.20" y2="109.40" stroke="#000" stroke-width="1.62" />
<text x="528.20" y="117.70" font-size="7.3" text-anchor="middle" font-weight="bold" fill="#111" stroke="#111" stroke-width="0.22">10</text>
<line x1="547.00" y1="105.20" x2="547.00" y2="109.40" stroke="#000" stroke-width="1.62" />
<text x="547.00" y="117.70" font-size="7.3" text-anchor="middle" font-weight="bold" fill="#111" stroke="#111" stroke-width="0.22">15</text>
<line x1="565.80" y1="105.20" x2="565.80" y2="109.40" stroke="#000" stroke-width="1.62" />
<text x="565.80" y="117.70" font-size="7.3" text-anchor="middle" font-weight="bold" fill="#111" stroke="#111" stroke-width="0.22">20</text>
<line x1="584.60" y1="105.20" x2="584.60" y2="109.40" stroke="#000" stroke-width="1.62" />
<text x="584.60" y="117.70" font-size="7.3" text-anchor="middle" font-weight="bold" fill="#111" stroke="#111" stroke-width="0.22">25</text>
<line x1="603.40" y1="105.20" x2="603.40" y2="109.40" stroke="#000" stroke-width="1.62" />
<text x="603.40" y="117.70" font-size="7.3" text-anchor="middle" font-weight="bold" fill="#111" stroke="#111" stroke-width="0.22">30</text>
<line x1="622.20" y1="105.20" x2="622.20" y2="109.40" stroke="#000" stroke-width="1.62" />
<text x="622.20" y="117.70" font-size="7.3" text-anchor="middle" font-weight="bold" fill="#111" stroke="#111" stroke-width="0.22">35</text>
<line x1="641.00" y1="105.20" x2="641.00" y2="109.40" stroke="#000" stroke-width="1.62" />
<text x="641.00" y="117.70" font-size="7.3" text-anchor="middle" font-weight="bold" fill="#111" stroke="#111" stroke-width="0.22">40</text>
<line x1="659.80" y1="105.20" x2="659.80" y2="109.40" stroke="#000" stroke-width="1.62" />
<text x="659.80" y="117.70" font-size="7.3" text-anchor="middle" font-weight="bold" fill="#111" stroke="#111" stroke-width="0.22">45</text>
<line x1="678.60" y1="105.20" x2="678.60" y2="109.40" stroke="#000" stroke-width="1.62" />
<text x="678.60" y="117.70" font-size="7.3" text-anchor="middle" font-weight="bold" fill="#111" stroke="#111" stroke-width="0.22">50</text>
<polyline points="528.20,100.70 547.00,95.20 565.80,88.50 584.60,79.70 603.40,69.50 622.20,57.80 641.00,45.30 659.80,31.50 678.60,17.50" fill="none" stroke="#111" stroke-width="1.1"/>
<circle cx="528.20" cy="100.70" r="1.55" fill="#000"/>
<circle cx="547.00" cy="95.20" r="1.55" fill="#000"/>
<circle cx="565.80" cy="88.50" r="1.55" fill="#000"/>
<circle cx="584.60" cy="79.70" r="1.55" fill="#000"/>
<circle cx="603.40" cy="69.50" r="1.55" fill="#000"/>
<circle cx="622.20" cy="57.80" r="1.55" fill="#000"/>
<circle cx="641.00" cy="45.30" r="1.55" fill="#000"/>
<circle cx="659.80" cy="31.50" r="1.55" fill="#000"/>
<circle cx="678.60" cy="17.50" r="1.55" fill="#000"/>
<text x="583.60" y="41.00" font-size="11.6" text-anchor="middle" fill="#1a1a1a" stroke="#1a1a1a" stroke-width="0.22">TI-SSR</text>
<text x="503.20" y="55.50" font-size="10.5" text-anchor="middle" fill="#1a1a1a" transform="rotate(-90 503.20 55.50)" stroke="#1a1a1a" stroke-width="0.22">AE</text>
<text x="610.60" y="127.50" font-size="9.6" text-anchor="middle" fill="#1a1a1a" textLength="119.70" lengthAdjust="spacingAndGlyphs" stroke="#1a1a1a" stroke-width="0.22">Displacement per frame (nm)</text>
<text x="684.20" y="136.60" font-size="9.6" text-anchor="end" fill="#1a1a1a" textLength="151.00" lengthAdjust="spacingAndGlyphs" stroke="#1a1a1a" stroke-width="0.22">=Speed (nm/s) × Imaging Interval (s)</text>
<text x="494.00" y="13.00" font-size="14.5" font-weight="bold" fill="#000">c</text>
<line x1="528.20" y1="147.60" x2="528.20" y2="250.10" stroke="#000" stroke-width="1.8" />
<line x1="527.30" y1="249.20" x2="679.52" y2="249.20" stroke="#000" stroke-width="1.8" />
<line x1="524.00" y1="249.20" x2="528.20" y2="249.20" stroke="#000" stroke-width="1.62" />
<text x="522.90" y="251.83" font-size="7.3" text-anchor="end" font-weight="bold" fill="#111" stroke="#111" stroke-width="0.22">0%</text>
<line x1="524.00" y1="215.63" x2="528.20" y2="215.63" stroke="#000" stroke-width="1.62" />
<text x="522.90" y="218.26" font-size="7.3" text-anchor="end" font-weight="bold" fill="#111" stroke="#111" stroke-width="0.22">0.5%</text>
<line x1="524.00" y1="182.07" x2="528.20" y2="182.07" stroke="#000" stroke-width="1.62" />
<text x="522.90" y="184.69" font-size="7.3" text-anchor="end" font-weight="bold" fill="#111" stroke="#111" stroke-width="0.22">1%</text>
<line x1="524.00" y1="148.50" x2="528.20" y2="148.50" stroke="#000" stroke-width="1.62" />
<text x="522.90" y="151.13" font-size="7.3" text-anchor="end" font-weight="bold" fill="#111" stroke="#111" stroke-width="0.22">1.5%</text>
<line x1="528.20" y1="249.20" x2="528.20" y2="253.40" stroke="#000" stroke-width="1.62" />
<text x="528.20" y="261.70" font-size="7.3" text-anchor="middle" font-weight="bold" fill="#111" stroke="#111" stroke-width="0.22">20</text>
<line x1="553.27" y1="249.20" x2="553.27" y2="253.40" stroke="#000" stroke-width="1.62" />
<text x="553.27" y="261.70" font-size="7.3" text-anchor="middle" font-weight="bold" fill="#111" stroke="#111" stroke-width="0.22">30</text>
<line x1="578.34" y1="249.20" x2="578.34" y2="253.40" stroke="#000" stroke-width="1.62" />
<text x="578.34" y="261.70" font-size="7.3" text-anchor="middle" font-weight="bold" fill="#111" stroke="#111" stroke-width="0.22">40</text>
<line x1="603.41" y1="249.20" x2="603.41" y2="253.40" stroke="#000" stroke-width="1.62" />
<text x="603.41" y="261.70" font-size="7.3" text-anchor="middle" font-weight="bold" fill="#111" stroke="#111" stroke-width="0.22">50</text>
<line x1="628.48" y1="249.20" x2="628.48" y2="253.40" stroke="#000" stroke-width="1.62" />
<text x="628.48" y="261.70" font-size="7.3" text-anchor="middle" font-weight="bold" fill="#111" stroke="#111" stroke-width="0.22">60</text>
<line x1="653.55" y1="249.20" x2="653.55" y2="253.40" stroke="#000" stroke-width="1.62" />
<text x="653.55" y="261.70" font-size="7.3" text-anchor="middle" font-weight="bold" fill="#111" stroke="#111" stroke-width="0.22">70</text>
<line x1="678.62" y1="249.20" x2="678.62" y2="253.40" stroke="#000" stroke-width="1.62" />
<text x="678.62" y="261.70" font-size="7.3" text-anchor="middle" font-weight="bold" fill="#111" stroke="#111" stroke-width="0.22">80</text>
<polyline points="528.20,243.90 553.27,241.90 578.34,237.20 603.41,227.80 628.48,212.70 653.55,189.90 678.62,159.80" fill="none" stroke="#111" stroke-width="1.1"/>
<circle cx="528.20" cy="243.90" r="1.55" fill="#000"/>
<circle cx="553.27" cy="241.90" r="1.55" fill="#000"/>
<circle cx="578.34" cy="237.20" r="1.55" fill="#000"/>
<circle cx="603.41" cy="227.80" r="1.55" fill="#000"/>
<circle cx="628.48" cy="212.70" r="1.55" fill="#000"/>
<circle cx="653.55" cy="189.90" r="1.55" fill="#000"/>
<circle cx="678.62" cy="159.80" r="1.55" fill="#000"/>
<text x="583.60" y="184.70" font-size="11.6" text-anchor="middle" fill="#1a1a1a" stroke="#1a1a1a" stroke-width="0.22">SI-SSR</text>
<text x="503.20" y="200.70" font-size="10.5" text-anchor="middle" fill="#1a1a1a" transform="rotate(-90 503.20 200.70)" stroke="#1a1a1a" stroke-width="0.22">AE</text>
<text x="684.50" y="271.90" font-size="9.6" text-anchor="end" fill="#1a1a1a" textLength="143.50" lengthAdjust="spacingAndGlyphs" stroke="#1a1a1a" stroke-width="0.22">Spatial sampling interval (nm/pixel)</text>
<text x="493.60" y="151.80" font-size="14.5" font-weight="bold" fill="#000">d</text>
<line x1="528.20" y1="277.30" x2="528.20" y2="379.60" stroke="#000" stroke-width="1.8" />
<line x1="527.30" y1="378.70" x2="679.52" y2="378.70" stroke="#000" stroke-width="1.8" />
<line x1="524.00" y1="378.70" x2="528.20" y2="378.70" stroke="#000" stroke-width="1.62" />
<text x="522.90" y="381.33" font-size="7.3" text-anchor="end" font-weight="bold" fill="#111" stroke="#111" stroke-width="0.22">0%</text>
<line x1="524.00" y1="345.20" x2="528.20" y2="345.20" stroke="#000" stroke-width="1.62" />
<text x="522.90" y="347.83" font-size="7.3" text-anchor="end" font-weight="bold" fill="#111" stroke="#111" stroke-width="0.22">0.4%</text>
<line x1="524.00" y1="311.70" x2="528.20" y2="311.70" stroke="#000" stroke-width="1.62" />
<text x="522.90" y="314.33" font-size="7.3" text-anchor="end" font-weight="bold" fill="#111" stroke="#111" stroke-width="0.22">0.8%</text>
<line x1="524.00" y1="278.20" x2="528.20" y2="278.20" stroke="#000" stroke-width="1.62" />
<text x="522.90" y="280.83" font-size="7.3" text-anchor="end" font-weight="bold" fill="#111" stroke="#111" stroke-width="0.22">1.2%</text>
<line x1="528.20" y1="378.70" x2="528.20" y2="382.90" stroke="#000" stroke-width="1.62" />
<text x="528.20" y="391.20" font-size="7.3" text-anchor="middle" font-weight="bold" fill="#111" stroke="#111" stroke-width="0.22">20</text>
<line x1="553.27" y1="378.70" x2="553.27" y2="382.90" stroke="#000" stroke-width="1.62" />
<text x="553.27" y="391.20" font-size="7.3" text-anchor="middle" font-weight="bold" fill="#111" stroke="#111" stroke-width="0.22">30</text>
<line x1="578.34" y1="378.70" x2="578.34" y2="382.90" stroke="#000" stroke-width="1.62" />
<text x="578.34" y="391.20" font-size="7.3" text-anchor="middle" font-weight="bold" fill="#111" stroke="#111" stroke-width="0.22">40</text>
<line x1="603.41" y1="378.70" x2="603.41" y2="382.90" stroke="#000" stroke-width="1.62" />
<text x="603.41" y="391.20" font-size="7.3" text-anchor="middle" font-weight="bold" fill="#111" stroke="#111" stroke-width="0.22">50</text>
<line x1="628.48" y1="378.70" x2="628.48" y2="382.90" stroke="#000" stroke-width="1.62" />
<text x="628.48" y="391.20" font-size="7.3" text-anchor="middle" font-weight="bold" fill="#111" stroke="#111" stroke-width="0.22">60</text>
<line x1="653.55" y1="378.70" x2="653.55" y2="382.90" stroke="#000" stroke-width="1.62" />
<text x="653.55" y="391.20" font-size="7.3" text-anchor="middle" font-weight="bold" fill="#111" stroke="#111" stroke-width="0.22">70</text>
<line x1="678.62" y1="378.70" x2="678.62" y2="382.90" stroke="#000" stroke-width="1.62" />
<text x="678.62" y="391.20" font-size="7.3" text-anchor="middle" font-weight="bold" fill="#111" stroke="#111" stroke-width="0.22">80</text>
<polyline points="528.20,373.90 553.27,372.20 578.34,367.50 603.41,358.40 628.48,343.80 653.55,321.90 678.62,292.20" fill="none" stroke="#111" stroke-width="1.1"/>
<circle cx="528.20" cy="373.90" r="1.55" fill="#000"/>
<circle cx="553.27" cy="372.20" r="1.55" fill="#000"/>
<circle cx="578.34" cy="367.50" r="1.55" fill="#000"/>
<circle cx="603.41" cy="358.40" r="1.55" fill="#000"/>
<circle cx="628.48" cy="343.80" r="1.55" fill="#000"/>
<circle cx="653.55" cy="321.90" r="1.55" fill="#000"/>
<circle cx="678.62" cy="292.20" r="1.55" fill="#000"/>
<text x="583.60" y="314.70" font-size="11.6" text-anchor="middle" fill="#1a1a1a" stroke="#1a1a1a" stroke-width="0.22">SI-SSR</text>
<text x="503.20" y="330.70" font-size="10.5" text-anchor="middle" fill="#1a1a1a" transform="rotate(-90 503.20 330.70)" stroke="#1a1a1a" stroke-width="0.22">GE</text>
<text x="684.50" y="401.90" font-size="9.6" text-anchor="end" fill="#1a1a1a" textLength="143.50" lengthAdjust="spacingAndGlyphs" stroke="#1a1a1a" stroke-width="0.22">Spatial sampling interval (nm/pixel)</text>
<text x="493.60" y="283.40" font-size="14.5" font-weight="bold" fill="#000">e</text>
<line x1="47.70" y1="532.00" x2="238.60" y2="532.00" stroke="#cd7a3c" stroke-width="1.5" stroke-dasharray="3.8 2.5"/>
<line x1="237.70" y1="538.80" x2="237.70" y2="543.50" stroke="#000" stroke-width="1.8" />
<line x1="47.70" y1="420.80" x2="47.70" y2="539.70" stroke="#000" stroke-width="1.8" />
<line x1="46.80" y1="538.80" x2="238.60" y2="538.80" stroke="#000" stroke-width="1.8" />
<line x1="43.00" y1="538.80" x2="47.70" y2="538.80" stroke="#000" stroke-width="1.62" />
<text x="41.20" y="541.90" font-size="8.6" text-anchor="end" font-weight="bold" fill="#111" stroke="#111" stroke-width="0.22">0.00</text>
<line x1="43.00" y1="515.38" x2="47.70" y2="515.38" stroke="#000" stroke-width="1.62" />
<text x="41.20" y="518.48" font-size="8.6" text-anchor="end" font-weight="bold" fill="#111" stroke="#111" stroke-width="0.22">0.01</text>
<line x1="43.00" y1="491.96" x2="47.70" y2="491.96" stroke="#000" stroke-width="1.62" />
<text x="41.20" y="495.06" font-size="8.6" text-anchor="end" font-weight="bold" fill="#111" stroke="#111" stroke-width="0.22">0.02</text>
<line x1="43.00" y1="468.54" x2="47.70" y2="468.54" stroke="#000" stroke-width="1.62" />
<text x="41.20" y="471.64" font-size="8.6" text-anchor="end" font-weight="bold" fill="#111" stroke="#111" stroke-width="0.22">0.03</text>
<line x1="43.00" y1="445.12" x2="47.70" y2="445.12" stroke="#000" stroke-width="1.62" />
<text x="41.20" y="448.22" font-size="8.6" text-anchor="end" font-weight="bold" fill="#111" stroke="#111" stroke-width="0.22">0.04</text>
<line x1="43.00" y1="421.70" x2="47.70" y2="421.70" stroke="#000" stroke-width="1.62" />
<text x="41.20" y="424.80" font-size="8.6" text-anchor="end" font-weight="bold" fill="#111" stroke="#111" stroke-width="0.22">0.05</text>
<line x1="66.50" y1="538.80" x2="66.50" y2="543.50" stroke="#000" stroke-width="1.62" />
<text x="66.50" y="551.50" font-size="8.6" text-anchor="middle" font-weight="bold" fill="#111" stroke="#111" stroke-width="0.22">10</text>
<line x1="85.45" y1="538.80" x2="85.45" y2="543.50" stroke="#000" stroke-width="1.62" />
<text x="85.45" y="551.50" font-size="8.6" text-anchor="middle" font-weight="bold" fill="#111" stroke="#111" stroke-width="0.22">15</text>
<line x1="104.40" y1="538.80" x2="104.40" y2="543.50" stroke="#000" stroke-width="1.62" />
<text x="104.40" y="551.50" font-size="8.6" text-anchor="middle" font-weight="bold" fill="#111" stroke="#111" stroke-width="0.22">20</text>
<line x1="123.35" y1="538.80" x2="123.35" y2="543.50" stroke="#000" stroke-width="1.62" />
<text x="123.35" y="551.50" font-size="8.6" text-anchor="middle" font-weight="bold" fill="#111" stroke="#111" stroke-width="0.22">25</text>
<line x1="142.30" y1="538.80" x2="142.30" y2="543.50" stroke="#000" stroke-width="1.62" />
<text x="142.30" y="551.50" font-size="8.6" text-anchor="middle" font-weight="bold" fill="#111" stroke="#111" stroke-width="0.22">30</text>
<line x1="161.25" y1="538.80" x2="161.25" y2="543.50" stroke="#000" stroke-width="1.62" />
<text x="161.25" y="551.50" font-size="8.6" text-anchor="middle" font-weight="bold" fill="#111" stroke="#111" stroke-width="0.22">35</text>
<line x1="180.20" y1="538.80" x2="180.20" y2="543.50" stroke="#000" stroke-width="1.62" />
<text x="180.20" y="551.50" font-size="8.6" text-anchor="middle" font-weight="bold" fill="#111" stroke="#111" stroke-width="0.22">40</text>
<line x1="199.15" y1="538.80" x2="199.15" y2="543.50" stroke="#000" stroke-width="1.62" />
<text x="199.15" y="551.50" font-size="8.6" text-anchor="middle" font-weight="bold" fill="#111" stroke="#111" stroke-width="0.22">45</text>
<line x1="218.10" y1="538.80" x2="218.10" y2="543.50" stroke="#000" stroke-width="1.62" />
<text x="218.10" y="551.50" font-size="8.6" text-anchor="middle" font-weight="bold" fill="#111" stroke="#111" stroke-width="0.22">50</text>
<line x1="66.50" y1="520.60" x2="66.50" y2="527.60" stroke="#000" stroke-width="1.2" />
<line x1="62.40" y1="520.60" x2="70.60" y2="520.60" stroke="#000" stroke-width="1.2" />
<line x1="62.40" y1="527.60" x2="70.60" y2="527.60" stroke="#000" stroke-width="1.2" />
<rect x="62.80" y="523.20" width="7.40" height="3.00" fill="none" stroke="#2a2a2a" stroke-width="0.9" />
<line x1="85.45" y1="509.20" x2="85.45" y2="526.40" stroke="#000" stroke-width="1.2" />
<line x1="81.35" y1="509.20" x2="89.55" y2="509.20" stroke="#000" stroke-width="1.2" />
<line x1="81.35" y1="526.40" x2="89.55" y2="526.40" stroke="#000" stroke-width="1.2" />
<rect x="81.75" y="516.60" width="7.40" height="4.90" fill="none" stroke="#2a2a2a" stroke-width="0.9" />
<line x1="104.40" y1="501.90" x2="104.40" y2="519.10" stroke="#000" stroke-width="1.2" />
<line x1="100.30" y1="501.90" x2="108.50" y2="501.90" stroke="#000" stroke-width="1.2" />
<line x1="100.30" y1="519.10" x2="108.50" y2="519.10" stroke="#000" stroke-width="1.2" />
<rect x="100.70" y="509.50" width="7.40" height="6.00" fill="none" stroke="#2a2a2a" stroke-width="0.9" />
<line x1="123.35" y1="500.10" x2="123.35" y2="509.80" stroke="#000" stroke-width="1.2" />
<line x1="119.25" y1="500.10" x2="127.45" y2="500.10" stroke="#000" stroke-width="1.2" />
<line x1="119.25" y1="509.80" x2="127.45" y2="509.80" stroke="#000" stroke-width="1.2" />
<rect x="119.65" y="503.50" width="7.40" height="4.00" fill="none" stroke="#2a2a2a" stroke-width="0.9" />
<line x1="142.30" y1="491.20" x2="142.30" y2="503.00" stroke="#000" stroke-width="1.2" />
<line x1="138.20" y1="491.20" x2="146.40" y2="491.20" stroke="#000" stroke-width="1.2" />
<line x1="138.20" y1="503.00" x2="146.40" y2="503.00" stroke="#000" stroke-width="1.2" />
<rect x="138.60" y="495.00" width="7.40" height="4.60" fill="none" stroke="#2a2a2a" stroke-width="0.9" />
<line x1="161.25" y1="479.80" x2="161.25" y2="491.60" stroke="#000" stroke-width="1.2" />
<line x1="157.15" y1="479.80" x2="165.35" y2="479.80" stroke="#000" stroke-width="1.2" />
<line x1="157.15" y1="491.60" x2="165.35" y2="491.60" stroke="#000" stroke-width="1.2" />
<rect x="157.55" y="483.50" width="7.40" height="4.70" fill="none" stroke="#2a2a2a" stroke-width="0.9" />
<line x1="180.20" y1="466.90" x2="180.20" y2="479.80" stroke="#000" stroke-width="1.2" />
<line x1="176.10" y1="466.90" x2="184.30" y2="466.90" stroke="#000" stroke-width="1.2" />
<line x1="176.10" y1="479.80" x2="184.30" y2="479.80" stroke="#000" stroke-width="1.2" />
<rect x="176.50" y="472.60" width="7.40" height="5.00" fill="none" stroke="#2a2a2a" stroke-width="0.9" />
<line x1="199.15" y1="457.20" x2="199.15" y2="468.00" stroke="#000" stroke-width="1.2" />
<line x1="195.05" y1="457.20" x2="203.25" y2="457.20" stroke="#000" stroke-width="1.2" />
<line x1="195.05" y1="468.00" x2="203.25" y2="468.00" stroke="#000" stroke-width="1.2" />
<rect x="195.45" y="462.60" width="7.40" height="4.20" fill="none" stroke="#2a2a2a" stroke-width="0.9" />
<line x1="218.10" y1="448.30" x2="218.10" y2="460.80" stroke="#000" stroke-width="1.2" />
<line x1="214.00" y1="448.30" x2="222.20" y2="448.30" stroke="#000" stroke-width="1.2" />
<line x1="214.00" y1="460.80" x2="222.20" y2="460.80" stroke="#000" stroke-width="1.2" />
<rect x="214.40" y="453.00" width="7.40" height="4.80" fill="none" stroke="#2a2a2a" stroke-width="0.9" />
<polyline points="66.50,524.50 85.45,518.70 104.40,512.70 123.35,505.50 142.30,497.30 161.25,485.80 180.20,475.10 199.15,464.70 218.10,455.40" fill="none" stroke="#000" stroke-width="1.5"/>
<text x="236.80" y="525.70" font-size="9.4" text-anchor="end" fill="#cd7a3c" textLength="94.50" lengthAdjust="spacingAndGlyphs" stroke="#cd7a3c" stroke-width="0.22">Signal-Consistent SSR</text>
<text x="153.80" y="464.40" font-size="11.6" text-anchor="middle" fill="#1a1a1a" stroke="#1a1a1a" stroke-width="0.22">TI-SSR</text>
<text x="19.50" y="480.25" font-size="9.3" text-anchor="middle" fill="#1a1a1a" transform="rotate(-90 19.50 480.25)" textLength="33.60" lengthAdjust="spacingAndGlyphs" stroke="#1a1a1a" stroke-width="0.22">NRMSE</text>
<text x="141.80" y="559.90" font-size="9.4" text-anchor="middle" fill="#1a1a1a" stroke="#1a1a1a" stroke-width="0.22">Speed (nm/s) × Imaging Interval (s)</text>
<text x="7.40" y="421.20" font-size="14.5" font-weight="bold" fill="#000">f</text>
<line x1="47.70" y1="688.80" x2="238.60" y2="688.80" stroke="#cd7a3c" stroke-width="1.5" stroke-dasharray="3.8 2.5"/>
<line x1="237.70" y1="696.70" x2="237.70" y2="701.40" stroke="#000" stroke-width="1.8" />
<line x1="47.70" y1="579.20" x2="47.70" y2="697.60" stroke="#000" stroke-width="1.8" />
<line x1="46.80" y1="696.70" x2="238.60" y2="696.70" stroke="#000" stroke-width="1.8" />
<line x1="43.00" y1="696.70" x2="47.70" y2="696.70" stroke="#000" stroke-width="1.62" />
<text x="41.20" y="699.80" font-size="8.6" text-anchor="end" font-weight="bold" fill="#111" stroke="#111" stroke-width="0.22">0.00</text>
<line x1="43.00" y1="667.55" x2="47.70" y2="667.55" stroke="#000" stroke-width="1.62" />
<text x="41.20" y="670.65" font-size="8.6" text-anchor="end" font-weight="bold" fill="#111" stroke="#111" stroke-width="0.22">0.01</text>
<line x1="43.00" y1="638.40" x2="47.70" y2="638.40" stroke="#000" stroke-width="1.62" />
<text x="41.20" y="641.50" font-size="8.6" text-anchor="end" font-weight="bold" fill="#111" stroke="#111" stroke-width="0.22">0.02</text>
<line x1="43.00" y1="609.25" x2="47.70" y2="609.25" stroke="#000" stroke-width="1.62" />
<text x="41.20" y="612.35" font-size="8.6" text-anchor="end" font-weight="bold" fill="#111" stroke="#111" stroke-width="0.22">0.03</text>
<line x1="43.00" y1="580.10" x2="47.70" y2="580.10" stroke="#000" stroke-width="1.62" />
<text x="41.20" y="583.20" font-size="8.6" text-anchor="end" font-weight="bold" fill="#111" stroke="#111" stroke-width="0.22">0.04</text>
<line x1="71.20" y1="696.70" x2="71.20" y2="701.40" stroke="#000" stroke-width="1.62" />
<text x="71.20" y="709.40" font-size="8.6" text-anchor="middle" font-weight="bold" fill="#111" stroke="#111" stroke-width="0.22">20</text>
<line x1="94.97" y1="696.70" x2="94.97" y2="701.40" stroke="#000" stroke-width="1.62" />
<text x="94.97" y="709.40" font-size="8.6" text-anchor="middle" font-weight="bold" fill="#111" stroke="#111" stroke-width="0.22">30</text>
<line x1="118.74" y1="696.70" x2="118.74" y2="701.40" stroke="#000" stroke-width="1.62" />
<text x="118.74" y="709.40" font-size="8.6" text-anchor="middle" font-weight="bold" fill="#111" stroke="#111" stroke-width="0.22">40</text>
<line x1="142.51" y1="696.70" x2="142.51" y2="701.40" stroke="#000" stroke-width="1.62" />
<text x="142.51" y="709.40" font-size="8.6" text-anchor="middle" font-weight="bold" fill="#111" stroke="#111" stroke-width="0.22">50</text>
<line x1="166.28" y1="696.70" x2="166.28" y2="701.40" stroke="#000" stroke-width="1.62" />
<text x="166.28" y="709.40" font-size="8.6" text-anchor="middle" font-weight="bold" fill="#111" stroke="#111" stroke-width="0.22">60</text>
<line x1="190.05" y1="696.70" x2="190.05" y2="701.40" stroke="#000" stroke-width="1.62" />
<text x="190.05" y="709.40" font-size="8.6" text-anchor="middle" font-weight="bold" fill="#111" stroke="#111" stroke-width="0.22">70</text>
<line x1="213.82" y1="696.70" x2="213.82" y2="701.40" stroke="#000" stroke-width="1.62" />
<text x="213.82" y="709.40" font-size="8.6" text-anchor="middle" font-weight="bold" fill="#111" stroke="#111" stroke-width="0.22">80</text>
<line x1="71.20" y1="674.10" x2="71.20" y2="683.00" stroke="#000" stroke-width="1.2" />
<line x1="67.10" y1="674.10" x2="75.30" y2="674.10" stroke="#000" stroke-width="1.2" />
<line x1="67.10" y1="683.00" x2="75.30" y2="683.00" stroke="#000" stroke-width="1.2" />
<rect x="67.50" y="677.70" width="7.40" height="4.60" fill="none" stroke="#2a2a2a" stroke-width="0.9" />
<line x1="94.97" y1="663.40" x2="94.97" y2="683.00" stroke="#000" stroke-width="1.2" />
<line x1="90.87" y1="663.40" x2="99.07" y2="663.40" stroke="#000" stroke-width="1.2" />
<line x1="90.87" y1="683.00" x2="99.07" y2="683.00" stroke="#000" stroke-width="1.2" />
<rect x="91.27" y="675.50" width="7.40" height="6.50" fill="none" stroke="#2a2a2a" stroke-width="0.9" />
<line x1="118.74" y1="672.00" x2="118.74" y2="677.70" stroke="#000" stroke-width="1.2" />
<line x1="114.64" y1="672.00" x2="122.84" y2="672.00" stroke="#000" stroke-width="1.2" />
<line x1="114.64" y1="677.70" x2="122.84" y2="677.70" stroke="#000" stroke-width="1.2" />
<rect x="115.04" y="674.20" width="7.40" height="2.60" fill="none" stroke="#2a2a2a" stroke-width="0.9" />
<line x1="142.51" y1="666.60" x2="142.51" y2="672.30" stroke="#000" stroke-width="1.2" />
<line x1="138.41" y1="666.60" x2="146.61" y2="666.60" stroke="#000" stroke-width="1.2" />
<line x1="138.41" y1="672.30" x2="146.61" y2="672.30" stroke="#000" stroke-width="1.2" />
<rect x="138.81" y="668.40" width="7.40" height="2.80" fill="none" stroke="#2a2a2a" stroke-width="0.9" />
<line x1="166.28" y1="658.00" x2="166.28" y2="661.60" stroke="#000" stroke-width="1.2" />
<line x1="162.18" y1="658.00" x2="170.38" y2="658.00" stroke="#000" stroke-width="1.2" />
<line x1="162.18" y1="661.60" x2="170.38" y2="661.60" stroke="#000" stroke-width="1.2" />
<rect x="162.58" y="659.00" width="7.40" height="1.80" fill="none" stroke="#2a2a2a" stroke-width="0.9" />
<line x1="190.05" y1="640.10" x2="190.05" y2="648.70" stroke="#000" stroke-width="1.2" />
<line x1="185.95" y1="640.10" x2="194.15" y2="640.10" stroke="#000" stroke-width="1.2" />
<line x1="185.95" y1="648.70" x2="194.15" y2="648.70" stroke="#000" stroke-width="1.2" />
<rect x="186.35" y="643.30" width="7.40" height="3.70" fill="none" stroke="#2a2a2a" stroke-width="0.9" />
<line x1="213.82" y1="608.30" x2="213.82" y2="625.80" stroke="#000" stroke-width="1.2" />
<line x1="209.72" y1="608.30" x2="217.92" y2="608.30" stroke="#000" stroke-width="1.2" />
<line x1="209.72" y1="625.80" x2="217.92" y2="625.80" stroke="#000" stroke-width="1.2" />
<rect x="210.12" y="616.50" width="7.40" height="5.70" fill="none" stroke="#2a2a2a" stroke-width="0.9" />
<polyline points="71.20,680.20 94.97,678.40 118.74,675.50 142.51,669.80 166.28,659.80 190.05,645.10 213.82,619.40" fill="none" stroke="#000" stroke-width="1.5"/>
<text x="236.80" y="684.30" font-size="9.4" text-anchor="end" fill="#cd7a3c" textLength="94.50" lengthAdjust="spacingAndGlyphs" stroke="#cd7a3c" stroke-width="0.22">Signal-Consistent SSR</text>
<text x="167.50" y="629.00" font-size="11.6" text-anchor="middle" fill="#1a1a1a" stroke="#1a1a1a" stroke-width="0.22">SI-SSR</text>
<text x="19.50" y="638.40" font-size="9.3" text-anchor="middle" fill="#1a1a1a" transform="rotate(-90 19.50 638.40)" textLength="33.60" lengthAdjust="spacingAndGlyphs" stroke="#1a1a1a" stroke-width="0.22">NRMSE</text>
<text x="147.20" y="718.60" font-size="9.4" text-anchor="middle" fill="#1a1a1a" stroke="#1a1a1a" stroke-width="0.22">Spatial sampling interval (nm/pixel)</text>
<text x="7.40" y="573.60" font-size="14.5" font-weight="bold" fill="#000">g</text>
<line x1="291.80" y1="424.30" x2="481.60" y2="424.30" stroke="#cd7a3c" stroke-width="1.5" stroke-dasharray="3.8 2.5"/>
<line x1="480.70" y1="538.80" x2="480.70" y2="543.50" stroke="#000" stroke-width="1.8" />
<line x1="291.80" y1="420.90" x2="291.80" y2="539.70" stroke="#000" stroke-width="1.8" />
<line x1="290.90" y1="538.80" x2="481.60" y2="538.80" stroke="#000" stroke-width="1.8" />
<line x1="287.10" y1="538.80" x2="291.80" y2="538.80" stroke="#000" stroke-width="1.62" />
<text x="285.30" y="541.90" font-size="8.6" text-anchor="end" font-weight="bold" fill="#111" stroke="#111" stroke-width="0.22">0.85</text>
<line x1="287.10" y1="499.80" x2="291.80" y2="499.80" stroke="#000" stroke-width="1.62" />
<text x="285.30" y="502.90" font-size="8.6" text-anchor="end" font-weight="bold" fill="#111" stroke="#111" stroke-width="0.22">0.90</text>
<line x1="287.10" y1="460.80" x2="291.80" y2="460.80" stroke="#000" stroke-width="1.62" />
<text x="285.30" y="463.90" font-size="8.6" text-anchor="end" font-weight="bold" fill="#111" stroke="#111" stroke-width="0.22">0.95</text>
<line x1="287.10" y1="421.80" x2="291.80" y2="421.80" stroke="#000" stroke-width="1.62" />
<text x="285.30" y="424.90" font-size="8.6" text-anchor="end" font-weight="bold" fill="#111" stroke="#111" stroke-width="0.22">1.00</text>
<line x1="310.50" y1="538.80" x2="310.50" y2="543.50" stroke="#000" stroke-width="1.62" />
<text x="310.50" y="551.50" font-size="8.6" text-anchor="middle" font-weight="bold" fill="#111" stroke="#111" stroke-width="0.22">10</text>
<line x1="329.50" y1="538.80" x2="329.50" y2="543.50" stroke="#000" stroke-width="1.62" />
<text x="329.50" y="551.50" font-size="8.6" text-anchor="middle" font-weight="bold" fill="#111" stroke="#111" stroke-width="0.22">15</text>
<line x1="348.50" y1="538.80" x2="348.50" y2="543.50" stroke="#000" stroke-width="1.62" />
<text x="348.50" y="551.50" font-size="8.6" text-anchor="middle" font-weight="bold" fill="#111" stroke="#111" stroke-width="0.22">20</text>
<line x1="367.50" y1="538.80" x2="367.50" y2="543.50" stroke="#000" stroke-width="1.62" />
<text x="367.50" y="551.50" font-size="8.6" text-anchor="middle" font-weight="bold" fill="#111" stroke="#111" stroke-width="0.22">25</text>
<line x1="386.50" y1="538.80" x2="386.50" y2="543.50" stroke="#000" stroke-width="1.62" />
<text x="386.50" y="551.50" font-size="8.6" text-anchor="middle" font-weight="bold" fill="#111" stroke="#111" stroke-width="0.22">30</text>
<line x1="405.50" y1="538.80" x2="405.50" y2="543.50" stroke="#000" stroke-width="1.62" />
<text x="405.50" y="551.50" font-size="8.6" text-anchor="middle" font-weight="bold" fill="#111" stroke="#111" stroke-width="0.22">35</text>
<line x1="424.50" y1="538.80" x2="424.50" y2="543.50" stroke="#000" stroke-width="1.62" />
<text x="424.50" y="551.50" font-size="8.6" text-anchor="middle" font-weight="bold" fill="#111" stroke="#111" stroke-width="0.22">40</text>
<line x1="443.50" y1="538.80" x2="443.50" y2="543.50" stroke="#000" stroke-width="1.62" />
<text x="443.50" y="551.50" font-size="8.6" text-anchor="middle" font-weight="bold" fill="#111" stroke="#111" stroke-width="0.22">45</text>
<line x1="462.50" y1="538.80" x2="462.50" y2="543.50" stroke="#000" stroke-width="1.62" />
<text x="462.50" y="551.50" font-size="8.6" text-anchor="middle" font-weight="bold" fill="#111" stroke="#111" stroke-width="0.22">50</text>
<line x1="310.50" y1="426.00" x2="310.50" y2="427.60" stroke="#000" stroke-width="1.2" />
<line x1="306.40" y1="426.00" x2="314.60" y2="426.00" stroke="#000" stroke-width="1.2" />
<line x1="306.40" y1="427.60" x2="314.60" y2="427.60" stroke="#000" stroke-width="1.2" />
<rect x="306.80" y="426.40" width="7.40" height="0.80" fill="#555" stroke="#2a2a2a" stroke-width="0.9" />
<line x1="329.50" y1="427.50" x2="329.50" y2="431.50" stroke="#000" stroke-width="1.2" />
<line x1="325.40" y1="427.50" x2="333.60" y2="427.50" stroke="#000" stroke-width="1.2" />
<line x1="325.40" y1="431.50" x2="333.60" y2="431.50" stroke="#000" stroke-width="1.2" />
<rect x="325.80" y="427.90" width="7.40" height="3.10" fill="#555" stroke="#2a2a2a" stroke-width="0.9" />
<line x1="348.50" y1="431.50" x2="348.50" y2="437.60" stroke="#000" stroke-width="1.2" />
<line x1="344.40" y1="431.50" x2="352.60" y2="431.50" stroke="#000" stroke-width="1.2" />
<line x1="344.40" y1="437.60" x2="352.60" y2="437.60" stroke="#000" stroke-width="1.2" />
<rect x="344.80" y="432.60" width="7.40" height="3.40" fill="#555" stroke="#2a2a2a" stroke-width="0.9" />
<line x1="367.50" y1="438.60" x2="367.50" y2="441.80" stroke="#000" stroke-width="1.2" />
<line x1="363.40" y1="438.60" x2="371.60" y2="438.60" stroke="#000" stroke-width="1.2" />
<line x1="363.40" y1="441.80" x2="371.60" y2="441.80" stroke="#000" stroke-width="1.2" />
<rect x="363.80" y="439.00" width="7.40" height="2.40" fill="#555" stroke="#2a2a2a" stroke-width="0.9" />
<line x1="386.50" y1="446.50" x2="386.50" y2="451.90" stroke="#000" stroke-width="1.2" />
<line x1="382.40" y1="446.50" x2="390.60" y2="446.50" stroke="#000" stroke-width="1.2" />
<line x1="382.40" y1="451.90" x2="390.60" y2="451.90" stroke="#000" stroke-width="1.2" />
<rect x="382.80" y="447.30" width="7.40" height="3.40" fill="#555" stroke="#2a2a2a" stroke-width="0.9" />
<line x1="405.50" y1="464.40" x2="405.50" y2="470.80" stroke="#000" stroke-width="1.2" />
<line x1="401.40" y1="464.40" x2="409.60" y2="464.40" stroke="#000" stroke-width="1.2" />
<line x1="401.40" y1="470.80" x2="409.60" y2="470.80" stroke="#000" stroke-width="1.2" />
<rect x="401.80" y="465.90" width="7.40" height="3.40" fill="#555" stroke="#2a2a2a" stroke-width="0.9" />
<line x1="424.50" y1="479.40" x2="424.50" y2="486.90" stroke="#000" stroke-width="1.2" />
<line x1="420.40" y1="479.40" x2="428.60" y2="479.40" stroke="#000" stroke-width="1.2" />
<line x1="420.40" y1="486.90" x2="428.60" y2="486.90" stroke="#000" stroke-width="1.2" />
<rect x="420.80" y="481.30" width="7.40" height="3.40" fill="#555" stroke="#2a2a2a" stroke-width="0.9" />
<line x1="443.50" y1="506.20" x2="443.50" y2="513.70" stroke="#000" stroke-width="1.2" />
<line x1="439.40" y1="506.20" x2="447.60" y2="506.20" stroke="#000" stroke-width="1.2" />
<line x1="439.40" y1="513.70" x2="447.60" y2="513.70" stroke="#000" stroke-width="1.2" />
<rect x="439.80" y="508.10" width="7.40" height="3.40" fill="#555" stroke="#2a2a2a" stroke-width="0.9" />
<line x1="462.50" y1="525.90" x2="462.50" y2="535.20" stroke="#000" stroke-width="1.2" />
<line x1="458.40" y1="525.90" x2="466.60" y2="525.90" stroke="#000" stroke-width="1.2" />
<line x1="458.40" y1="535.20" x2="466.60" y2="535.20" stroke="#000" stroke-width="1.2" />
<rect x="458.80" y="528.10" width="7.40" height="3.40" fill="#555" stroke="#2a2a2a" stroke-width="0.9" />
<polyline points="310.50,426.80 329.50,429.30 348.50,434.30 367.50,440.00 386.50,449.00 405.50,467.60 424.50,483.00 443.50,509.80 462.50,529.80" fill="none" stroke="#000" stroke-width="1.5"/>
<text x="478.90" y="433.20" font-size="9.4" text-anchor="end" fill="#cd7a3c" textLength="94.50" lengthAdjust="spacingAndGlyphs" stroke="#cd7a3c" stroke-width="0.22">Signal-Consistent SSR</text>
<text x="351.00" y="460.70" font-size="11.6" text-anchor="middle" fill="#1a1a1a" stroke="#1a1a1a" stroke-width="0.22">TI-SSR</text>
<text x="263.00" y="480.30" font-size="10.3" text-anchor="middle" fill="#1a1a1a" transform="rotate(-90 263.00 480.30)" textLength="25.70" lengthAdjust="spacingAndGlyphs" stroke="#1a1a1a" stroke-width="0.22">SSIM</text>
<text x="387.30" y="559.50" font-size="9.4" text-anchor="middle" fill="#1a1a1a" stroke="#1a1a1a" stroke-width="0.22">Speed (nm/s) × Imaging Interval (s)</text>
<text x="251.00" y="421.20" font-size="14.5" font-weight="bold" fill="#000">h</text>
<line x1="291.80" y1="581.40" x2="481.60" y2="581.40" stroke="#cd7a3c" stroke-width="1.5" stroke-dasharray="3.8 2.5"/>
<line x1="480.70" y1="696.70" x2="480.70" y2="701.40" stroke="#000" stroke-width="1.8" />
<line x1="291.80" y1="579.20" x2="291.80" y2="697.60" stroke="#000" stroke-width="1.8" />
<line x1="290.90" y1="696.70" x2="481.60" y2="696.70" stroke="#000" stroke-width="1.8" />
<line x1="287.10" y1="696.70" x2="291.80" y2="696.70" stroke="#000" stroke-width="1.62" />
<text x="285.30" y="699.80" font-size="8.6" text-anchor="end" font-weight="bold" fill="#111" stroke="#111" stroke-width="0.22">0.80</text>
<line x1="287.10" y1="667.55" x2="291.80" y2="667.55" stroke="#000" stroke-width="1.62" />
<text x="285.30" y="670.65" font-size="8.6" text-anchor="end" font-weight="bold" fill="#111" stroke="#111" stroke-width="0.22">0.85</text>
<line x1="287.10" y1="638.40" x2="291.80" y2="638.40" stroke="#000" stroke-width="1.62" />
<text x="285.30" y="641.50" font-size="8.6" text-anchor="end" font-weight="bold" fill="#111" stroke="#111" stroke-width="0.22">0.90</text>
<line x1="287.10" y1="609.25" x2="291.80" y2="609.25" stroke="#000" stroke-width="1.62" />
<text x="285.30" y="612.35" font-size="8.6" text-anchor="end" font-weight="bold" fill="#111" stroke="#111" stroke-width="0.22">0.95</text>
<line x1="287.10" y1="580.10" x2="291.80" y2="580.10" stroke="#000" stroke-width="1.62" />
<text x="285.30" y="583.20" font-size="8.6" text-anchor="end" font-weight="bold" fill="#111" stroke="#111" stroke-width="0.22">1.00</text>
<line x1="315.30" y1="696.70" x2="315.30" y2="701.40" stroke="#000" stroke-width="1.62" />
<text x="315.30" y="709.40" font-size="8.6" text-anchor="middle" font-weight="bold" fill="#111" stroke="#111" stroke-width="0.22">20</text>
<line x1="339.07" y1="696.70" x2="339.07" y2="701.40" stroke="#000" stroke-width="1.62" />
<text x="339.07" y="709.40" font-size="8.6" text-anchor="middle" font-weight="bold" fill="#111" stroke="#111" stroke-width="0.22">30</text>
<line x1="362.84" y1="696.70" x2="362.84" y2="701.40" stroke="#000" stroke-width="1.62" />
<text x="362.84" y="709.40" font-size="8.6" text-anchor="middle" font-weight="bold" fill="#111" stroke="#111" stroke-width="0.22">40</text>
<line x1="386.61" y1="696.70" x2="386.61" y2="701.40" stroke="#000" stroke-width="1.62" />
<text x="386.61" y="709.40" font-size="8.6" text-anchor="middle" font-weight="bold" fill="#111" stroke="#111" stroke-width="0.22">50</text>
<line x1="410.38" y1="696.70" x2="410.38" y2="701.40" stroke="#000" stroke-width="1.62" />
<text x="410.38" y="709.40" font-size="8.6" text-anchor="middle" font-weight="bold" fill="#111" stroke="#111" stroke-width="0.22">60</text>
<line x1="434.15" y1="696.70" x2="434.15" y2="701.40" stroke="#000" stroke-width="1.62" />
<text x="434.15" y="709.40" font-size="8.6" text-anchor="middle" font-weight="bold" fill="#111" stroke="#111" stroke-width="0.22">70</text>
<line x1="457.92" y1="696.70" x2="457.92" y2="701.40" stroke="#000" stroke-width="1.62" />
<text x="457.92" y="709.40" font-size="8.6" text-anchor="middle" font-weight="bold" fill="#111" stroke="#111" stroke-width="0.22">80</text>
<line x1="315.30" y1="603.30" x2="315.30" y2="613.30" stroke="#000" stroke-width="1.2" />
<line x1="311.20" y1="603.30" x2="319.40" y2="603.30" stroke="#000" stroke-width="1.2" />
<line x1="311.20" y1="613.30" x2="319.40" y2="613.30" stroke="#000" stroke-width="1.2" />
<rect x="311.60" y="606.20" width="7.40" height="3.40" fill="#555" stroke="#2a2a2a" stroke-width="0.9" />
<line x1="339.07" y1="610.40" x2="339.07" y2="615.80" stroke="#000" stroke-width="1.2" />
<line x1="334.97" y1="610.40" x2="343.17" y2="610.40" stroke="#000" stroke-width="1.2" />
<line x1="334.97" y1="615.80" x2="343.17" y2="615.80" stroke="#000" stroke-width="1.2" />
<rect x="335.37" y="611.60" width="7.40" height="3.40" fill="#555" stroke="#2a2a2a" stroke-width="0.9" />
<line x1="362.84" y1="628.30" x2="362.84" y2="633.00" stroke="#000" stroke-width="1.2" />
<line x1="358.74" y1="628.30" x2="366.94" y2="628.30" stroke="#000" stroke-width="1.2" />
<line x1="358.74" y1="633.00" x2="366.94" y2="633.00" stroke="#000" stroke-width="1.2" />
<rect x="359.14" y="629.10" width="7.40" height="3.40" fill="#555" stroke="#2a2a2a" stroke-width="0.9" />
<line x1="386.61" y1="638.00" x2="386.61" y2="648.00" stroke="#000" stroke-width="1.2" />
<line x1="382.51" y1="638.00" x2="390.71" y2="638.00" stroke="#000" stroke-width="1.2" />
<line x1="382.51" y1="648.00" x2="390.71" y2="648.00" stroke="#000" stroke-width="1.2" />
<rect x="382.91" y="641.60" width="7.40" height="3.40" fill="#555" stroke="#2a2a2a" stroke-width="0.9" />
<line x1="410.38" y1="644.40" x2="410.38" y2="658.70" stroke="#000" stroke-width="1.2" />
<line x1="406.28" y1="644.40" x2="414.48" y2="644.40" stroke="#000" stroke-width="1.2" />
<line x1="406.28" y1="658.70" x2="414.48" y2="658.70" stroke="#000" stroke-width="1.2" />
<rect x="406.68" y="651.70" width="7.40" height="3.40" fill="#555" stroke="#2a2a2a" stroke-width="0.9" />
<line x1="434.15" y1="660.50" x2="434.15" y2="667.70" stroke="#000" stroke-width="1.2" />
<line x1="430.05" y1="660.50" x2="438.25" y2="660.50" stroke="#000" stroke-width="1.2" />
<line x1="430.05" y1="667.70" x2="438.25" y2="667.70" stroke="#000" stroke-width="1.2" />
<rect x="430.45" y="662.40" width="7.40" height="3.40" fill="#555" stroke="#2a2a2a" stroke-width="0.9" />
<line x1="457.92" y1="677.70" x2="457.92" y2="682.70" stroke="#000" stroke-width="1.2" />
<line x1="453.82" y1="677.70" x2="462.02" y2="677.70" stroke="#000" stroke-width="1.2" />
<line x1="453.82" y1="682.70" x2="462.02" y2="682.70" stroke="#000" stroke-width="1.2" />
<rect x="454.22" y="678.50" width="7.40" height="3.40" fill="#555" stroke="#2a2a2a" stroke-width="0.9" />
<polyline points="315.30,607.90 339.07,613.30 362.84,630.80 386.61,643.30 410.38,653.40 434.15,664.10 457.92,680.20" fill="none" stroke="#000" stroke-width="1.5"/>
<text x="478.90" y="592.40" font-size="9.4" text-anchor="end" fill="#cd7a3c" textLength="94.50" lengthAdjust="spacingAndGlyphs" stroke="#cd7a3c" stroke-width="0.22">Signal-Consistent SSR</text>
<text x="398.60" y="626.50" font-size="11.6" text-anchor="middle" fill="#1a1a1a" stroke="#1a1a1a" stroke-width="0.22">SI-SSR</text>
<text x="263.00" y="638.40" font-size="10.3" text-anchor="middle" fill="#1a1a1a" transform="rotate(-90 263.00 638.40)" textLength="25.70" lengthAdjust="spacingAndGlyphs" stroke="#1a1a1a" stroke-width="0.22">SSIM</text>
<text x="391.50" y="718.60" font-size="9.4" text-anchor="middle" fill="#1a1a1a" stroke="#1a1a1a" stroke-width="0.22">Spatial sampling interval (nm/pixel)</text>
<text x="251.20" y="574.20" font-size="14.5" font-weight="bold" fill="#000">i</text>
<g shape-rendering="crispEdges">
<rect x="524.10" y="411.10" width="147.51" height="130.80" fill="#4158c8" />
<rect x="524.10" y="411.10" width="16.89" height="16.85" fill="#c42b33" />
<rect x="540.49" y="411.10" width="16.89" height="16.85" fill="#bf2632" />
<rect x="556.88" y="411.10" width="16.89" height="16.85" fill="#bf2632" />
<rect x="573.27" y="411.10" width="16.89" height="16.85" fill="#bf2632" />
<rect x="589.66" y="411.10" width="16.89" height="16.85" fill="#c32a34" />
<rect x="606.05" y="411.10" width="16.89" height="16.85" fill="#bf2632" />
<rect x="622.44" y="411.10" width="16.89" height="16.85" fill="#bf2632" />
<rect x="638.83" y="411.10" width="16.89" height="16.85" fill="#bf2632" />
<rect x="655.22" y="411.10" width="16.89" height="16.85" fill="#bf2632" />
<rect x="524.10" y="427.45" width="16.89" height="16.85" fill="#9fbcf8" />
<rect x="540.49" y="427.45" width="16.89" height="16.85" fill="#d6dcea" />
<rect x="556.88" y="427.45" width="16.89" height="16.85" fill="#f0baa2" />
<rect x="573.27" y="427.45" width="16.89" height="16.85" fill="#e0614c" />
<rect x="589.66" y="427.45" width="16.89" height="16.85" fill="#ecd3c5" />
<rect x="606.05" y="427.45" width="16.89" height="16.85" fill="#c83038" />
<rect x="622.44" y="427.45" width="16.89" height="16.85" fill="#bf2632" />
<rect x="638.83" y="427.45" width="16.89" height="16.85" fill="#bf2632" />
<rect x="655.22" y="427.45" width="16.89" height="16.85" fill="#bf2632" />
<rect x="556.88" y="443.80" width="16.89" height="16.85" fill="#4a62d0" />
<rect x="573.27" y="443.80" width="16.89" height="16.85" fill="#8aaaf5" />
<rect x="589.66" y="443.80" width="16.89" height="16.85" fill="#6f8eea" />
<rect x="606.05" y="443.80" width="16.89" height="16.85" fill="#e8917a" />
<rect x="622.44" y="443.80" width="16.89" height="16.85" fill="#c42a35" />
<rect x="638.83" y="443.80" width="16.89" height="16.85" fill="#bf2632" />
<rect x="655.22" y="443.80" width="16.89" height="16.85" fill="#bf2632" />
<rect x="606.05" y="460.15" width="16.89" height="16.85" fill="#86a6f3" />
<rect x="622.44" y="460.15" width="16.89" height="16.85" fill="#cc3038" />
<rect x="638.83" y="460.15" width="16.89" height="16.85" fill="#bf2632" />
<rect x="655.22" y="460.15" width="16.89" height="16.85" fill="#bf2632" />
<rect x="606.05" y="476.50" width="16.89" height="16.85" fill="#4961d2" />
<rect x="622.44" y="476.50" width="16.89" height="16.85" fill="#cfd9ee" />
<rect x="638.83" y="476.50" width="16.89" height="16.85" fill="#dc5a4a" />
<rect x="655.22" y="476.50" width="16.89" height="16.85" fill="#bf2632" />
<rect x="622.44" y="492.85" width="16.89" height="16.85" fill="#5570dc" />
<rect x="638.83" y="492.85" width="16.89" height="16.85" fill="#ead5c9" />
<rect x="655.22" y="492.85" width="16.89" height="16.85" fill="#bf2632" />
<rect x="638.83" y="509.20" width="16.89" height="16.85" fill="#8fb0f8" />
<rect x="655.22" y="509.20" width="16.89" height="16.85" fill="#e27560" />
<rect x="638.83" y="525.55" width="16.89" height="16.85" fill="#5a78e0" />
<rect x="655.22" y="525.55" width="16.89" height="16.85" fill="#9ebcf9" />
</g>
<text x="522.50" y="425.28" font-size="8.1" text-anchor="end" fill="#111" stroke="#111" stroke-width="0.25">110</text>
<text x="522.50" y="441.62" font-size="8.1" text-anchor="end" fill="#111" stroke="#111" stroke-width="0.25">120</text>
<text x="522.50" y="457.98" font-size="8.1" text-anchor="end" fill="#111" stroke="#111" stroke-width="0.25">130</text>
<text x="522.50" y="474.33" font-size="8.1" text-anchor="end" fill="#111" stroke="#111" stroke-width="0.25">140</text>
<text x="522.50" y="490.68" font-size="8.1" text-anchor="end" fill="#111" stroke="#111" stroke-width="0.25">150</text>
<text x="522.50" y="507.03" font-size="8.1" text-anchor="end" fill="#111" stroke="#111" stroke-width="0.25">160</text>
<text x="522.50" y="523.38" font-size="8.1" text-anchor="end" fill="#111" stroke="#111" stroke-width="0.25">170</text>
<text x="522.50" y="539.73" font-size="8.1" text-anchor="end" fill="#111" stroke="#111" stroke-width="0.25">180</text>
<text x="533.20" y="550.80" font-size="8.6" text-anchor="middle" fill="#111" stroke="#111" stroke-width="0.2">10</text>
<text x="549.70" y="550.80" font-size="8.6" text-anchor="middle" fill="#111" stroke="#111" stroke-width="0.2">15</text>
<text x="566.20" y="550.80" font-size="8.6" text-anchor="middle" fill="#111" stroke="#111" stroke-width="0.2">20</text>
<text x="582.70" y="550.80" font-size="8.6" text-anchor="middle" fill="#111" stroke="#111" stroke-width="0.2">25</text>
<text x="599.20" y="550.80" font-size="8.6" text-anchor="middle" fill="#111" stroke="#111" stroke-width="0.2">30</text>
<text x="615.70" y="550.80" font-size="8.6" text-anchor="middle" fill="#111" stroke="#111" stroke-width="0.2">35</text>
<text x="632.20" y="550.80" font-size="8.6" text-anchor="middle" fill="#111" stroke="#111" stroke-width="0.2">40</text>
<text x="648.70" y="550.80" font-size="8.6" text-anchor="middle" fill="#111" stroke="#111" stroke-width="0.2">45</text>
<text x="665.20" y="550.80" font-size="8.6" text-anchor="middle" fill="#111" stroke="#111" stroke-width="0.2">50</text>
<polygon points="524.10,443.80 573.27,443.80 573.27,460.15 606.05,460.15 606.05,476.50 622.44,476.50 622.44,492.85 638.83,492.85 638.83,525.55 655.22,525.55 655.22,541.90 524.10,541.90" fill="none" stroke="#05050f" stroke-width="1.6"/>
<rect x="673.8" y="411.10" width="11.2" height="130.80" fill="url(#cbar)"/>
<text x="683.40" y="412.70" font-size="7.6" text-anchor="end" fill="#000" transform="rotate(-90 683.40 412.70)" stroke="#000" stroke-width="0.2">0%</text>
<text x="683.40" y="540.10" font-size="7.6" fill="#000" transform="rotate(-90 683.40 540.10)" stroke="#000" stroke-width="0.2">100%</text>
<text x="507.20" y="481.50" font-size="9.4" text-anchor="middle" fill="#1a1a1a" transform="rotate(-90 507.20 481.50)" textLength="96.50" lengthAdjust="spacingAndGlyphs" stroke="#1a1a1a" stroke-width="0.22">Diameter of vesica (nm)</text>
<text x="607.20" y="560.30" font-size="9.6" text-anchor="middle" fill="#1a1a1a" textLength="147.00" lengthAdjust="spacingAndGlyphs" stroke="#1a1a1a" stroke-width="0.22">Speed (nm/s) × Imaging Interval (s)</text>
<text x="493.20" y="420.80" font-size="14.5" font-weight="bold" fill="#000">j</text>
<text x="534.80" y="468.80" font-size="10.4" fill="#0b1240" textLength="66.60" lengthAdjust="spacingAndGlyphs" stroke="#0b1240" stroke-width="0.22">90% boundary</text>
<text x="531.30" y="523.40" font-size="10.2" fill="#cdd8fa" stroke="#cdd8fa" stroke-width="0.22">TI-SSR</text>
<text x="531.30" y="535.70" font-size="10.2" fill="#cdd8fa" textLength="91.00" lengthAdjust="spacingAndGlyphs" stroke="#cdd8fa" stroke-width="0.22">resolving proportion</text>
<g shape-rendering="crispEdges">
<rect x="524.10" y="569.10" width="147.49" height="130.80" fill="#4158c8" />
<rect x="524.10" y="569.10" width="21.57" height="16.85" fill="#bf2632" />
<rect x="545.17" y="569.10" width="21.57" height="16.85" fill="#bf2632" />
<rect x="566.24" y="569.10" width="21.57" height="16.85" fill="#bf2632" />
<rect x="587.31" y="569.10" width="21.57" height="16.85" fill="#bf2632" />
<rect x="608.38" y="569.10" width="21.57" height="16.85" fill="#bf2632" />
<rect x="629.45" y="569.10" width="21.57" height="16.85" fill="#bf2632" />
<rect x="650.52" y="569.10" width="21.57" height="16.85" fill="#bf2632" />
<rect x="524.10" y="585.45" width="21.57" height="16.85" fill="#4c64d2" />
<rect x="545.17" y="585.45" width="21.57" height="16.85" fill="#5f7ce2" />
<rect x="566.24" y="585.45" width="21.57" height="16.85" fill="#e5d8d0" />
<rect x="587.31" y="585.45" width="21.57" height="16.85" fill="#d8dce4" />
<rect x="608.38" y="585.45" width="21.57" height="16.85" fill="#e58a70" />
<rect x="629.45" y="585.45" width="21.57" height="16.85" fill="#bf2632" />
<rect x="650.52" y="585.45" width="21.57" height="16.85" fill="#bf2632" />
<rect x="608.38" y="601.80" width="21.57" height="16.85" fill="#a5c2fb" />
<rect x="629.45" y="601.80" width="21.57" height="16.85" fill="#f0bfa8" />
<rect x="650.52" y="601.80" width="21.57" height="16.85" fill="#ec9d84" />
<rect x="608.38" y="618.15" width="21.57" height="16.85" fill="#4d66d4" />
<rect x="629.45" y="618.15" width="21.57" height="16.85" fill="#6e90ee" />
<rect x="650.52" y="618.15" width="21.57" height="16.85" fill="#8fb0fa" />
<rect x="629.45" y="634.50" width="21.57" height="16.85" fill="#4a60ce" />
<rect x="650.52" y="634.50" width="21.57" height="16.85" fill="#4f68d4" />
<rect x="650.52" y="650.85" width="21.57" height="16.85" fill="#465ecc" />
</g>
<text x="522.50" y="583.27" font-size="8.1" text-anchor="end" fill="#111" stroke="#111" stroke-width="0.25">110</text>
<text x="522.50" y="599.62" font-size="8.1" text-anchor="end" fill="#111" stroke="#111" stroke-width="0.25">120</text>
<text x="522.50" y="615.98" font-size="8.1" text-anchor="end" fill="#111" stroke="#111" stroke-width="0.25">130</text>
<text x="522.50" y="632.33" font-size="8.1" text-anchor="end" fill="#111" stroke="#111" stroke-width="0.25">140</text>
<text x="522.50" y="648.68" font-size="8.1" text-anchor="end" fill="#111" stroke="#111" stroke-width="0.25">150</text>
<text x="522.50" y="665.03" font-size="8.1" text-anchor="end" fill="#111" stroke="#111" stroke-width="0.25">160</text>
<text x="522.50" y="681.38" font-size="8.1" text-anchor="end" fill="#111" stroke="#111" stroke-width="0.25">170</text>
<text x="522.50" y="697.73" font-size="8.1" text-anchor="end" fill="#111" stroke="#111" stroke-width="0.25">180</text>
<text x="533.20" y="708.80" font-size="8.6" text-anchor="middle" fill="#111" stroke="#111" stroke-width="0.2">20</text>
<text x="554.85" y="708.80" font-size="8.6" text-anchor="middle" fill="#111" stroke="#111" stroke-width="0.2">30</text>
<text x="576.50" y="708.80" font-size="8.6" text-anchor="middle" fill="#111" stroke="#111" stroke-width="0.2">40</text>
<text x="598.15" y="708.80" font-size="8.6" text-anchor="middle" fill="#111" stroke="#111" stroke-width="0.2">50</text>
<text x="619.80" y="708.80" font-size="8.6" text-anchor="middle" fill="#111" stroke="#111" stroke-width="0.2">60</text>
<text x="641.45" y="708.80" font-size="8.6" text-anchor="middle" fill="#111" stroke="#111" stroke-width="0.2">70</text>
<text x="663.10" y="708.80" font-size="8.6" text-anchor="middle" fill="#111" stroke="#111" stroke-width="0.2">80</text>
<polygon points="524.10,585.45 545.17,585.45 545.17,601.80 608.38,601.80 608.38,618.15 629.45,618.15 629.45,634.50 671.59,634.50 671.59,699.90 524.10,699.90" fill="none" stroke="#05050f" stroke-width="1.6"/>
<rect x="673.8" y="569.10" width="11.2" height="130.80" fill="url(#cbar)"/>
<text x="683.40" y="570.70" font-size="7.6" text-anchor="end" fill="#000" transform="rotate(-90 683.40 570.70)" stroke="#000" stroke-width="0.2">0%</text>
<text x="683.40" y="698.10" font-size="7.6" fill="#000" transform="rotate(-90 683.40 698.10)" stroke="#000" stroke-width="0.2">100%</text>
<text x="507.20" y="639.50" font-size="9.4" text-anchor="middle" fill="#1a1a1a" transform="rotate(-90 507.20 639.50)" textLength="96.50" lengthAdjust="spacingAndGlyphs" stroke="#1a1a1a" stroke-width="0.22">Diameter of vesica (nm)</text>
<text x="607.00" y="718.40" font-size="9.6" text-anchor="middle" fill="#1a1a1a" textLength="141.70" lengthAdjust="spacingAndGlyphs" stroke="#1a1a1a" stroke-width="0.22">Spatial sampling interval (nm/pixel)</text>
<text x="493.60" y="573.70" font-size="14.5" font-weight="bold" fill="#000">k</text>
<text x="536.40" y="612.40" font-size="10.4" fill="#0b1240" textLength="66.60" lengthAdjust="spacingAndGlyphs" stroke="#0b1240" stroke-width="0.22">90% boundary</text>
<text x="531.30" y="681.40" font-size="10.2" fill="#cdd8fa" stroke="#cdd8fa" stroke-width="0.22">SI-SSR</text>
<text x="531.30" y="693.70" font-size="10.2" fill="#cdd8fa" textLength="91.00" lengthAdjust="spacingAndGlyphs" stroke="#cdd8fa" stroke-width="0.22">resolving proportion</text>
</svg>
</body></html>
